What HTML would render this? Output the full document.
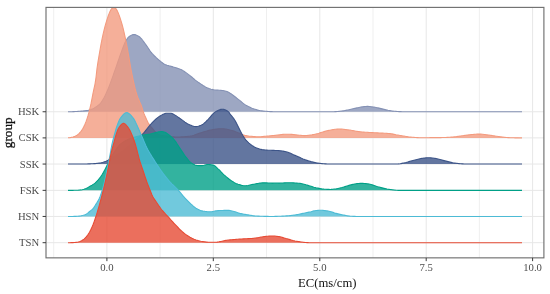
<!DOCTYPE html>
<html lang="en"><head><meta charset="utf-8"><title>EC ridgeline</title>
<style>
html,body{margin:0;padding:0;background:#fff;}
body{width:550px;height:294px;position:relative;overflow:hidden;font-family:"Liberation Serif",serif;}
svg text{font-family:"Liberation Serif",serif;}
.ax{font-size:10.7px;fill:#4d4d4d;}
.ti{font-size:12.7px;fill:#111;}
</style></head><body>
<svg width="550" height="294" viewBox="0 0 550 294" style="position:absolute;left:0;top:0">
<rect x="0" y="0" width="550" height="294" fill="#fff"/>
<g><line x1="53.7" x2="53.7" y1="7.4" y2="257.85" stroke="#ebebeb" stroke-width="0.8"/><line x1="160.1" x2="160.1" y1="7.4" y2="257.85" stroke="#ebebeb" stroke-width="0.8"/><line x1="266.5" x2="266.5" y1="7.4" y2="257.85" stroke="#ebebeb" stroke-width="0.8"/><line x1="373.0" x2="373.0" y1="7.4" y2="257.85" stroke="#ebebeb" stroke-width="0.8"/><line x1="479.4" x2="479.4" y1="7.4" y2="257.85" stroke="#ebebeb" stroke-width="0.8"/><line x1="106.9" x2="106.9" y1="7.4" y2="257.85" stroke="#e7e7e7" stroke-width="1"/><line x1="213.3" x2="213.3" y1="7.4" y2="257.85" stroke="#e7e7e7" stroke-width="1"/><line x1="319.8" x2="319.8" y1="7.4" y2="257.85" stroke="#e7e7e7" stroke-width="1"/><line x1="426.2" x2="426.2" y1="7.4" y2="257.85" stroke="#e7e7e7" stroke-width="1"/><line x1="532.6" x2="532.6" y1="7.4" y2="257.85" stroke="#e7e7e7" stroke-width="1"/><line x1="46.0" x2="543.9" y1="111.75" y2="111.75" stroke="#e7e7e7" stroke-width="1"/><line x1="46.0" x2="543.9" y1="137.9" y2="137.9" stroke="#e7e7e7" stroke-width="1"/><line x1="46.0" x2="543.9" y1="164.05" y2="164.05" stroke="#e7e7e7" stroke-width="1"/><line x1="46.0" x2="543.9" y1="190.35" y2="190.35" stroke="#e7e7e7" stroke-width="1"/><line x1="46.0" x2="543.9" y1="216.45" y2="216.45" stroke="#e7e7e7" stroke-width="1"/><line x1="46.0" x2="543.9" y1="242.7" y2="242.7" stroke="#e7e7e7" stroke-width="1"/></g>
<clipPath id="cp"><rect x="46.0" y="7.4" width="497.9" height="250.45000000000002"/></clipPath>
<g clip-path="url(#cp)">
<path d="M68.0,111.75 L69.0,111.74 L70.0,111.73 L71.0,111.71 L72.0,111.68 L73.0,111.64 L74.0,111.60 L75.0,111.56 L76.0,111.52 L77.0,111.45 L78.0,111.38 L79.0,111.30 L80.0,111.21 L81.0,111.11 L82.0,111.03 L83.0,110.94 L84.0,110.86 L85.0,110.77 L86.0,110.67 L87.0,110.55 L88.0,110.40 L89.0,110.19 L90.0,109.88 L91.0,109.52 L92.0,109.11 L93.0,108.68 L94.0,108.16 L95.0,107.57 L96.0,106.93 L97.0,106.26 L98.0,105.55 L99.0,104.75 L100.0,103.81 L101.0,102.62 L102.0,101.13 L103.0,99.45 L104.0,97.69 L105.0,95.76 L106.0,93.69 L107.0,91.50 L108.0,89.18 L109.0,86.72 L110.0,84.15 L111.0,81.49 L112.0,78.69 L113.0,75.85 L114.0,73.02 L115.0,70.18 L116.0,67.33 L117.0,64.45 L118.0,61.54 L119.0,58.65 L120.0,55.80 L121.0,53.04 L122.0,50.30 L123.0,47.51 L124.0,44.87 L125.0,42.57 L126.0,40.72 L127.0,39.05 L128.0,37.66 L129.0,36.73 L130.0,36.05 L131.0,35.44 L132.0,34.95 L133.0,34.62 L134.0,34.50 L135.0,34.62 L136.0,34.93 L137.0,35.39 L138.0,35.94 L139.0,36.54 L140.0,37.27 L141.0,38.27 L142.0,39.46 L143.0,40.79 L144.0,42.17 L145.0,43.54 L146.0,44.86 L147.0,46.27 L148.0,47.75 L149.0,49.25 L150.0,50.71 L151.0,52.09 L152.0,53.32 L153.0,54.44 L154.0,55.50 L155.0,56.50 L156.0,57.46 L157.0,58.37 L158.0,59.25 L159.0,60.09 L160.0,60.95 L161.0,61.78 L162.0,62.57 L163.0,63.29 L164.0,63.93 L165.0,64.45 L166.0,64.86 L167.0,65.22 L168.0,65.53 L169.0,65.82 L170.0,66.08 L171.0,66.35 L172.0,66.61 L173.0,66.90 L174.0,67.22 L175.0,67.53 L176.0,67.83 L177.0,68.14 L178.0,68.46 L179.0,68.81 L180.0,69.18 L181.0,69.60 L182.0,70.08 L183.0,70.64 L184.0,71.26 L185.0,71.93 L186.0,72.65 L187.0,73.38 L188.0,74.13 L189.0,74.86 L190.0,75.63 L191.0,76.45 L192.0,77.29 L193.0,78.15 L194.0,79.00 L195.0,79.83 L196.0,80.62 L197.0,81.37 L198.0,82.09 L199.0,82.80 L200.0,83.49 L201.0,84.16 L202.0,84.81 L203.0,85.44 L204.0,86.03 L205.0,86.61 L206.0,87.16 L207.0,87.66 L208.0,88.09 L209.0,88.49 L210.0,88.85 L211.0,89.17 L212.0,89.41 L213.0,89.62 L214.0,89.80 L215.0,89.94 L216.0,90.03 L217.0,90.10 L218.0,90.16 L219.0,90.22 L220.0,90.30 L221.0,90.37 L222.0,90.45 L223.0,90.56 L224.0,90.72 L225.0,90.93 L226.0,91.21 L227.0,91.53 L228.0,91.95 L229.0,92.52 L230.0,93.17 L231.0,93.82 L232.0,94.50 L233.0,95.23 L234.0,95.98 L235.0,96.75 L236.0,97.54 L237.0,98.33 L238.0,99.10 L239.0,99.88 L240.0,100.69 L241.0,101.52 L242.0,102.35 L243.0,103.16 L244.0,103.93 L245.0,104.64 L246.0,105.26 L247.0,105.82 L248.0,106.36 L249.0,106.87 L250.0,107.34 L251.0,107.79 L252.0,108.20 L253.0,108.57 L254.0,108.91 L255.0,109.24 L256.0,109.55 L257.0,109.85 L258.0,110.12 L259.0,110.36 L260.0,110.57 L261.0,110.73 L262.0,110.87 L263.0,110.99 L264.0,111.11 L265.0,111.22 L266.0,111.32 L267.0,111.41 L268.0,111.49 L269.0,111.56 L270.0,111.61 L271.0,111.64 L272.0,111.66 L273.0,111.68 L274.0,111.70 L275.0,111.71 L276.0,111.73 L277.0,111.74 L278.0,111.74 L279.0,111.75 L280.0,111.75 L281.0,111.75 L282.0,111.75 L283.0,111.75 L284.0,111.75 L285.0,111.75 L286.0,111.75 L287.0,111.75 L288.0,111.75 L289.0,111.75 L290.0,111.75 L291.0,111.75 L292.0,111.75 L293.0,111.75 L294.0,111.75 L295.0,111.75 L296.0,111.75 L297.0,111.75 L298.0,111.75 L299.0,111.75 L300.0,111.75 L301.0,111.75 L302.0,111.75 L303.0,111.75 L304.0,111.75 L305.0,111.75 L306.0,111.75 L307.0,111.75 L308.0,111.75 L309.0,111.75 L310.0,111.75 L311.0,111.75 L312.0,111.75 L313.0,111.75 L314.0,111.75 L315.0,111.75 L316.0,111.75 L317.0,111.75 L318.0,111.75 L319.0,111.75 L320.0,111.75 L321.0,111.75 L322.0,111.75 L323.0,111.75 L324.0,111.75 L325.0,111.75 L326.0,111.75 L327.0,111.75 L328.0,111.75 L329.0,111.75 L330.0,111.75 L331.0,111.75 L332.0,111.75 L333.0,111.75 L334.0,111.72 L335.0,111.67 L336.0,111.61 L337.0,111.53 L338.0,111.44 L339.0,111.34 L340.0,111.25 L341.0,111.14 L342.0,111.01 L343.0,110.86 L344.0,110.69 L345.0,110.52 L346.0,110.34 L347.0,110.16 L348.0,109.96 L349.0,109.75 L350.0,109.52 L351.0,109.29 L352.0,109.05 L353.0,108.81 L354.0,108.57 L355.0,108.34 L356.0,108.11 L357.0,107.90 L358.0,107.69 L359.0,107.47 L360.0,107.25 L361.0,107.05 L362.0,106.88 L363.0,106.75 L364.0,106.64 L365.0,106.54 L366.0,106.45 L367.0,106.41 L368.0,106.41 L369.0,106.47 L370.0,106.57 L371.0,106.70 L372.0,106.83 L373.0,106.97 L374.0,107.12 L375.0,107.30 L376.0,107.49 L377.0,107.70 L378.0,107.90 L379.0,108.11 L380.0,108.35 L381.0,108.60 L382.0,108.86 L383.0,109.12 L384.0,109.38 L385.0,109.64 L386.0,109.88 L387.0,110.10 L388.0,110.31 L389.0,110.49 L390.0,110.66 L391.0,110.81 L392.0,110.96 L393.0,111.09 L394.0,111.20 L395.0,111.30 L396.0,111.40 L397.0,111.48 L398.0,111.55 L399.0,111.60 L400.0,111.64 L401.0,111.67 L402.0,111.70 L403.0,111.73 L404.0,111.74 L405.0,111.75 L406.0,111.75 L407.0,111.75 L408.0,111.75 L409.0,111.75 L410.0,111.75 L411.0,111.75 L412.0,111.75 L413.0,111.75 L414.0,111.75 L415.0,111.75 L416.0,111.75 L417.0,111.75 L418.0,111.75 L419.0,111.75 L420.0,111.75 L421.0,111.75 L422.0,111.75 L423.0,111.75 L424.0,111.75 L425.0,111.75 L426.0,111.75 L427.0,111.75 L428.0,111.75 L429.0,111.75 L430.0,111.75 L431.0,111.75 L432.0,111.75 L433.0,111.75 L434.0,111.75 L435.0,111.75 L436.0,111.75 L437.0,111.75 L438.0,111.75 L439.0,111.75 L440.0,111.75 L441.0,111.75 L442.0,111.75 L443.0,111.75 L444.0,111.75 L445.0,111.75 L446.0,111.75 L447.0,111.75 L448.0,111.75 L449.0,111.75 L450.0,111.75 L451.0,111.75 L452.0,111.75 L453.0,111.75 L454.0,111.75 L455.0,111.75 L456.0,111.75 L457.0,111.75 L458.0,111.75 L459.0,111.75 L460.0,111.75 L461.0,111.75 L462.0,111.75 L463.0,111.75 L464.0,111.75 L465.0,111.75 L466.0,111.75 L467.0,111.75 L468.0,111.75 L469.0,111.75 L470.0,111.75 L471.0,111.75 L472.0,111.75 L473.0,111.75 L474.0,111.75 L475.0,111.75 L476.0,111.75 L477.0,111.75 L478.0,111.75 L479.0,111.75 L480.0,111.75 L481.0,111.75 L482.0,111.75 L483.0,111.75 L484.0,111.75 L485.0,111.75 L486.0,111.75 L487.0,111.75 L488.0,111.75 L489.0,111.75 L490.0,111.75 L491.0,111.75 L492.0,111.75 L493.0,111.75 L494.0,111.75 L495.0,111.75 L496.0,111.75 L497.0,111.75 L498.0,111.75 L499.0,111.75 L500.0,111.75 L501.0,111.75 L502.0,111.75 L503.0,111.75 L504.0,111.75 L505.0,111.75 L506.0,111.75 L507.0,111.75 L508.0,111.75 L509.0,111.75 L510.0,111.75 L511.0,111.75 L512.0,111.75 L513.0,111.75 L514.0,111.75 L515.0,111.75 L516.0,111.75 L517.0,111.75 L518.0,111.75 L519.0,111.75 L520.0,111.75 L521.0,111.75 L522.0,111.75 L522.0,111.75 L68.0,111.75 Z" fill="#8491B4" fill-opacity="0.8" stroke="none"/>
<path d="M68.0,111.75 L69.0,111.74 L70.0,111.73 L71.0,111.71 L72.0,111.68 L73.0,111.64 L74.0,111.60 L75.0,111.56 L76.0,111.52 L77.0,111.45 L78.0,111.38 L79.0,111.30 L80.0,111.21 L81.0,111.11 L82.0,111.03 L83.0,110.94 L84.0,110.86 L85.0,110.77 L86.0,110.67 L87.0,110.55 L88.0,110.40 L89.0,110.19 L90.0,109.88 L91.0,109.52 L92.0,109.11 L93.0,108.68 L94.0,108.16 L95.0,107.57 L96.0,106.93 L97.0,106.26 L98.0,105.55 L99.0,104.75 L100.0,103.81 L101.0,102.62 L102.0,101.13 L103.0,99.45 L104.0,97.69 L105.0,95.76 L106.0,93.69 L107.0,91.50 L108.0,89.18 L109.0,86.72 L110.0,84.15 L111.0,81.49 L112.0,78.69 L113.0,75.85 L114.0,73.02 L115.0,70.18 L116.0,67.33 L117.0,64.45 L118.0,61.54 L119.0,58.65 L120.0,55.80 L121.0,53.04 L122.0,50.30 L123.0,47.51 L124.0,44.87 L125.0,42.57 L126.0,40.72 L127.0,39.05 L128.0,37.66 L129.0,36.73 L130.0,36.05 L131.0,35.44 L132.0,34.95 L133.0,34.62 L134.0,34.50 L135.0,34.62 L136.0,34.93 L137.0,35.39 L138.0,35.94 L139.0,36.54 L140.0,37.27 L141.0,38.27 L142.0,39.46 L143.0,40.79 L144.0,42.17 L145.0,43.54 L146.0,44.86 L147.0,46.27 L148.0,47.75 L149.0,49.25 L150.0,50.71 L151.0,52.09 L152.0,53.32 L153.0,54.44 L154.0,55.50 L155.0,56.50 L156.0,57.46 L157.0,58.37 L158.0,59.25 L159.0,60.09 L160.0,60.95 L161.0,61.78 L162.0,62.57 L163.0,63.29 L164.0,63.93 L165.0,64.45 L166.0,64.86 L167.0,65.22 L168.0,65.53 L169.0,65.82 L170.0,66.08 L171.0,66.35 L172.0,66.61 L173.0,66.90 L174.0,67.22 L175.0,67.53 L176.0,67.83 L177.0,68.14 L178.0,68.46 L179.0,68.81 L180.0,69.18 L181.0,69.60 L182.0,70.08 L183.0,70.64 L184.0,71.26 L185.0,71.93 L186.0,72.65 L187.0,73.38 L188.0,74.13 L189.0,74.86 L190.0,75.63 L191.0,76.45 L192.0,77.29 L193.0,78.15 L194.0,79.00 L195.0,79.83 L196.0,80.62 L197.0,81.37 L198.0,82.09 L199.0,82.80 L200.0,83.49 L201.0,84.16 L202.0,84.81 L203.0,85.44 L204.0,86.03 L205.0,86.61 L206.0,87.16 L207.0,87.66 L208.0,88.09 L209.0,88.49 L210.0,88.85 L211.0,89.17 L212.0,89.41 L213.0,89.62 L214.0,89.80 L215.0,89.94 L216.0,90.03 L217.0,90.10 L218.0,90.16 L219.0,90.22 L220.0,90.30 L221.0,90.37 L222.0,90.45 L223.0,90.56 L224.0,90.72 L225.0,90.93 L226.0,91.21 L227.0,91.53 L228.0,91.95 L229.0,92.52 L230.0,93.17 L231.0,93.82 L232.0,94.50 L233.0,95.23 L234.0,95.98 L235.0,96.75 L236.0,97.54 L237.0,98.33 L238.0,99.10 L239.0,99.88 L240.0,100.69 L241.0,101.52 L242.0,102.35 L243.0,103.16 L244.0,103.93 L245.0,104.64 L246.0,105.26 L247.0,105.82 L248.0,106.36 L249.0,106.87 L250.0,107.34 L251.0,107.79 L252.0,108.20 L253.0,108.57 L254.0,108.91 L255.0,109.24 L256.0,109.55 L257.0,109.85 L258.0,110.12 L259.0,110.36 L260.0,110.57 L261.0,110.73 L262.0,110.87 L263.0,110.99 L264.0,111.11 L265.0,111.22 L266.0,111.32 L267.0,111.41 L268.0,111.49 L269.0,111.56 L270.0,111.61 L271.0,111.64 L272.0,111.66 L273.0,111.68 L274.0,111.70 L275.0,111.71 L276.0,111.73 L277.0,111.74 L278.0,111.74 L279.0,111.75 L280.0,111.75 L281.0,111.75 L282.0,111.75 L283.0,111.75 L284.0,111.75 L285.0,111.75 L286.0,111.75 L287.0,111.75 L288.0,111.75 L289.0,111.75 L290.0,111.75 L291.0,111.75 L292.0,111.75 L293.0,111.75 L294.0,111.75 L295.0,111.75 L296.0,111.75 L297.0,111.75 L298.0,111.75 L299.0,111.75 L300.0,111.75 L301.0,111.75 L302.0,111.75 L303.0,111.75 L304.0,111.75 L305.0,111.75 L306.0,111.75 L307.0,111.75 L308.0,111.75 L309.0,111.75 L310.0,111.75 L311.0,111.75 L312.0,111.75 L313.0,111.75 L314.0,111.75 L315.0,111.75 L316.0,111.75 L317.0,111.75 L318.0,111.75 L319.0,111.75 L320.0,111.75 L321.0,111.75 L322.0,111.75 L323.0,111.75 L324.0,111.75 L325.0,111.75 L326.0,111.75 L327.0,111.75 L328.0,111.75 L329.0,111.75 L330.0,111.75 L331.0,111.75 L332.0,111.75 L333.0,111.75 L334.0,111.72 L335.0,111.67 L336.0,111.61 L337.0,111.53 L338.0,111.44 L339.0,111.34 L340.0,111.25 L341.0,111.14 L342.0,111.01 L343.0,110.86 L344.0,110.69 L345.0,110.52 L346.0,110.34 L347.0,110.16 L348.0,109.96 L349.0,109.75 L350.0,109.52 L351.0,109.29 L352.0,109.05 L353.0,108.81 L354.0,108.57 L355.0,108.34 L356.0,108.11 L357.0,107.90 L358.0,107.69 L359.0,107.47 L360.0,107.25 L361.0,107.05 L362.0,106.88 L363.0,106.75 L364.0,106.64 L365.0,106.54 L366.0,106.45 L367.0,106.41 L368.0,106.41 L369.0,106.47 L370.0,106.57 L371.0,106.70 L372.0,106.83 L373.0,106.97 L374.0,107.12 L375.0,107.30 L376.0,107.49 L377.0,107.70 L378.0,107.90 L379.0,108.11 L380.0,108.35 L381.0,108.60 L382.0,108.86 L383.0,109.12 L384.0,109.38 L385.0,109.64 L386.0,109.88 L387.0,110.10 L388.0,110.31 L389.0,110.49 L390.0,110.66 L391.0,110.81 L392.0,110.96 L393.0,111.09 L394.0,111.20 L395.0,111.30 L396.0,111.40 L397.0,111.48 L398.0,111.55 L399.0,111.60 L400.0,111.64 L401.0,111.67 L402.0,111.70 L403.0,111.73 L404.0,111.74 L405.0,111.75 L406.0,111.75 L407.0,111.75 L408.0,111.75 L409.0,111.75 L410.0,111.75 L411.0,111.75 L412.0,111.75 L413.0,111.75 L414.0,111.75 L415.0,111.75 L416.0,111.75 L417.0,111.75 L418.0,111.75 L419.0,111.75 L420.0,111.75 L421.0,111.75 L422.0,111.75 L423.0,111.75 L424.0,111.75 L425.0,111.75 L426.0,111.75 L427.0,111.75 L428.0,111.75 L429.0,111.75 L430.0,111.75 L431.0,111.75 L432.0,111.75 L433.0,111.75 L434.0,111.75 L435.0,111.75 L436.0,111.75 L437.0,111.75 L438.0,111.75 L439.0,111.75 L440.0,111.75 L441.0,111.75 L442.0,111.75 L443.0,111.75 L444.0,111.75 L445.0,111.75 L446.0,111.75 L447.0,111.75 L448.0,111.75 L449.0,111.75 L450.0,111.75 L451.0,111.75 L452.0,111.75 L453.0,111.75 L454.0,111.75 L455.0,111.75 L456.0,111.75 L457.0,111.75 L458.0,111.75 L459.0,111.75 L460.0,111.75 L461.0,111.75 L462.0,111.75 L463.0,111.75 L464.0,111.75 L465.0,111.75 L466.0,111.75 L467.0,111.75 L468.0,111.75 L469.0,111.75 L470.0,111.75 L471.0,111.75 L472.0,111.75 L473.0,111.75 L474.0,111.75 L475.0,111.75 L476.0,111.75 L477.0,111.75 L478.0,111.75 L479.0,111.75 L480.0,111.75 L481.0,111.75 L482.0,111.75 L483.0,111.75 L484.0,111.75 L485.0,111.75 L486.0,111.75 L487.0,111.75 L488.0,111.75 L489.0,111.75 L490.0,111.75 L491.0,111.75 L492.0,111.75 L493.0,111.75 L494.0,111.75 L495.0,111.75 L496.0,111.75 L497.0,111.75 L498.0,111.75 L499.0,111.75 L500.0,111.75 L501.0,111.75 L502.0,111.75 L503.0,111.75 L504.0,111.75 L505.0,111.75 L506.0,111.75 L507.0,111.75 L508.0,111.75 L509.0,111.75 L510.0,111.75 L511.0,111.75 L512.0,111.75 L513.0,111.75 L514.0,111.75 L515.0,111.75 L516.0,111.75 L517.0,111.75 L518.0,111.75 L519.0,111.75 L520.0,111.75 L521.0,111.75 L522.0,111.75" fill="none" stroke="#8491B4" stroke-width="1.1" stroke-linejoin="round"/>
<path d="M68.0,137.80 L69.0,137.72 L70.0,137.59 L71.0,137.41 L72.0,137.20 L73.0,136.95 L74.0,136.62 L75.0,136.23 L76.0,135.76 L77.0,135.21 L78.0,134.46 L79.0,133.55 L80.0,132.50 L81.0,131.28 L82.0,129.83 L83.0,128.16 L84.0,126.29 L85.0,124.17 L86.0,121.66 L87.0,118.81 L88.0,115.70 L89.0,112.16 L90.0,108.11 L91.0,103.65 L92.0,98.54 L93.0,93.30 L94.0,88.69 L95.0,84.08 L96.0,77.57 L97.0,68.50 L98.0,61.86 L99.0,55.90 L100.0,50.02 L101.0,44.44 L102.0,39.32 L103.0,34.70 L104.0,30.42 L105.0,26.40 L106.0,22.85 L107.0,19.56 L108.0,16.55 L109.0,13.85 L110.0,11.49 L111.0,9.63 L112.0,8.45 L113.0,7.80 L114.0,7.61 L115.0,8.03 L116.0,8.79 L117.0,10.34 L118.0,12.37 L119.0,14.90 L120.0,17.71 L121.0,20.85 L122.0,24.24 L123.0,27.96 L124.0,32.10 L125.0,36.51 L126.0,41.29 L127.0,46.60 L128.0,52.21 L129.0,57.90 L130.0,63.87 L131.0,69.49 L132.0,74.51 L133.0,79.37 L134.0,83.97 L135.0,88.21 L136.0,91.99 L137.0,95.22 L138.0,97.90 L139.0,100.31 L140.0,102.62 L141.0,104.76 L142.0,107.58 L143.0,111.00 L144.0,113.65 L145.0,116.01 L146.0,118.22 L147.0,120.38 L148.0,122.43 L149.0,124.19 L150.0,125.59 L151.0,126.75 L152.0,127.88 L153.0,129.12 L154.0,130.39 L155.0,131.53 L156.0,132.43 L157.0,133.26 L158.0,134.01 L159.0,134.61 L160.0,135.00 L161.0,135.25 L162.0,135.46 L163.0,135.64 L164.0,135.79 L165.0,135.93 L166.0,136.05 L167.0,136.16 L168.0,136.27 L169.0,136.38 L170.0,136.50 L171.0,136.61 L172.0,136.72 L173.0,136.82 L174.0,136.90 L175.0,136.96 L176.0,137.00 L177.0,137.00 L178.0,136.99 L179.0,136.96 L180.0,136.93 L181.0,136.89 L182.0,136.83 L183.0,136.77 L184.0,136.70 L185.0,136.63 L186.0,136.54 L187.0,136.46 L188.0,136.36 L189.0,136.26 L190.0,136.15 L191.0,135.99 L192.0,135.76 L193.0,135.48 L194.0,135.17 L195.0,134.82 L196.0,134.46 L197.0,134.09 L198.0,133.73 L199.0,133.38 L200.0,133.05 L201.0,132.75 L202.0,132.45 L203.0,132.14 L204.0,131.84 L205.0,131.53 L206.0,131.23 L207.0,130.93 L208.0,130.65 L209.0,130.39 L210.0,130.15 L211.0,129.94 L212.0,129.75 L213.0,129.56 L214.0,129.39 L215.0,129.24 L216.0,129.11 L217.0,129.00 L218.0,128.91 L219.0,128.82 L220.0,128.75 L221.0,128.71 L222.0,128.71 L223.0,128.76 L224.0,128.86 L225.0,128.99 L226.0,129.13 L227.0,129.28 L228.0,129.46 L229.0,129.68 L230.0,129.93 L231.0,130.20 L232.0,130.48 L233.0,130.79 L234.0,131.13 L235.0,131.51 L236.0,131.91 L237.0,132.30 L238.0,132.70 L239.0,133.11 L240.0,133.52 L241.0,133.92 L242.0,134.32 L243.0,134.72 L244.0,135.08 L245.0,135.35 L246.0,135.56 L247.0,135.75 L248.0,135.92 L249.0,136.08 L250.0,136.21 L251.0,136.32 L252.0,136.42 L253.0,136.51 L254.0,136.59 L255.0,136.67 L256.0,136.73 L257.0,136.78 L258.0,136.80 L259.0,136.79 L260.0,136.75 L261.0,136.69 L262.0,136.61 L263.0,136.52 L264.0,136.42 L265.0,136.32 L266.0,136.23 L267.0,136.14 L268.0,136.05 L269.0,135.96 L270.0,135.86 L271.0,135.76 L272.0,135.66 L273.0,135.56 L274.0,135.46 L275.0,135.35 L276.0,135.24 L277.0,135.13 L278.0,135.02 L279.0,134.91 L280.0,134.78 L281.0,134.63 L282.0,134.48 L283.0,134.34 L284.0,134.24 L285.0,134.20 L286.0,134.21 L287.0,134.22 L288.0,134.25 L289.0,134.28 L290.0,134.32 L291.0,134.36 L292.0,134.41 L293.0,134.48 L294.0,134.59 L295.0,134.71 L296.0,134.84 L297.0,134.98 L298.0,135.10 L299.0,135.20 L300.0,135.29 L301.0,135.39 L302.0,135.48 L303.0,135.55 L304.0,135.59 L305.0,135.60 L306.0,135.55 L307.0,135.47 L308.0,135.37 L309.0,135.25 L310.0,135.12 L311.0,134.99 L312.0,134.84 L313.0,134.66 L314.0,134.46 L315.0,134.24 L316.0,134.01 L317.0,133.77 L318.0,133.51 L319.0,133.20 L320.0,132.86 L321.0,132.51 L322.0,132.20 L323.0,131.91 L324.0,131.63 L325.0,131.35 L326.0,131.09 L327.0,130.84 L328.0,130.61 L329.0,130.38 L330.0,130.17 L331.0,129.97 L332.0,129.80 L333.0,129.64 L334.0,129.48 L335.0,129.33 L336.0,129.19 L337.0,129.09 L338.0,129.02 L339.0,129.00 L340.0,129.03 L341.0,129.09 L342.0,129.17 L343.0,129.26 L344.0,129.35 L345.0,129.45 L346.0,129.58 L347.0,129.72 L348.0,129.86 L349.0,130.00 L350.0,130.15 L351.0,130.31 L352.0,130.47 L353.0,130.65 L354.0,130.83 L355.0,131.01 L356.0,131.18 L357.0,131.35 L358.0,131.51 L359.0,131.65 L360.0,131.78 L361.0,131.88 L362.0,131.97 L363.0,132.05 L364.0,132.12 L365.0,132.19 L366.0,132.26 L367.0,132.32 L368.0,132.38 L369.0,132.43 L370.0,132.49 L371.0,132.54 L372.0,132.59 L373.0,132.65 L374.0,132.70 L375.0,132.75 L376.0,132.80 L377.0,132.85 L378.0,132.90 L379.0,132.94 L380.0,132.99 L381.0,133.03 L382.0,133.08 L383.0,133.13 L384.0,133.19 L385.0,133.25 L386.0,133.30 L387.0,133.36 L388.0,133.43 L389.0,133.51 L390.0,133.60 L391.0,133.73 L392.0,133.91 L393.0,134.12 L394.0,134.35 L395.0,134.59 L396.0,134.81 L397.0,135.00 L398.0,135.16 L399.0,135.32 L400.0,135.47 L401.0,135.63 L402.0,135.80 L403.0,135.98 L404.0,136.16 L405.0,136.33 L406.0,136.50 L407.0,136.66 L408.0,136.80 L409.0,136.93 L410.0,137.03 L411.0,137.13 L412.0,137.22 L413.0,137.32 L414.0,137.40 L415.0,137.48 L416.0,137.56 L417.0,137.62 L418.0,137.66 L419.0,137.69 L420.0,137.70 L421.0,137.70 L422.0,137.70 L423.0,137.70 L424.0,137.70 L425.0,137.69 L426.0,137.69 L427.0,137.69 L428.0,137.68 L429.0,137.68 L430.0,137.67 L431.0,137.67 L432.0,137.66 L433.0,137.66 L434.0,137.65 L435.0,137.64 L436.0,137.64 L437.0,137.63 L438.0,137.62 L439.0,137.61 L440.0,137.60 L441.0,137.59 L442.0,137.57 L443.0,137.54 L444.0,137.51 L445.0,137.47 L446.0,137.43 L447.0,137.38 L448.0,137.33 L449.0,137.28 L450.0,137.23 L451.0,137.16 L452.0,137.08 L453.0,136.99 L454.0,136.90 L455.0,136.80 L456.0,136.69 L457.0,136.55 L458.0,136.41 L459.0,136.25 L460.0,136.10 L461.0,135.95 L462.0,135.82 L463.0,135.68 L464.0,135.54 L465.0,135.40 L466.0,135.26 L467.0,135.12 L468.0,134.99 L469.0,134.87 L470.0,134.75 L471.0,134.65 L472.0,134.57 L473.0,134.48 L474.0,134.39 L475.0,134.30 L476.0,134.23 L477.0,134.17 L478.0,134.12 L479.0,134.10 L480.0,134.11 L481.0,134.15 L482.0,134.23 L483.0,134.32 L484.0,134.44 L485.0,134.57 L486.0,134.71 L487.0,134.86 L488.0,135.00 L489.0,135.14 L490.0,135.26 L491.0,135.40 L492.0,135.55 L493.0,135.70 L494.0,135.86 L495.0,136.02 L496.0,136.18 L497.0,136.33 L498.0,136.48 L499.0,136.61 L500.0,136.74 L501.0,136.86 L502.0,136.98 L503.0,137.10 L504.0,137.22 L505.0,137.34 L506.0,137.44 L507.0,137.53 L508.0,137.61 L509.0,137.66 L510.0,137.70 L511.0,137.73 L512.0,137.76 L513.0,137.78 L514.0,137.81 L515.0,137.83 L516.0,137.84 L517.0,137.86 L518.0,137.87 L519.0,137.89 L520.0,137.89 L521.0,137.90 L522.0,137.90 L522.0,137.9 L68.0,137.9 Z" fill="#F39B7F" fill-opacity="0.8" stroke="none"/>
<path d="M68.0,137.80 L69.0,137.72 L70.0,137.59 L71.0,137.41 L72.0,137.20 L73.0,136.95 L74.0,136.62 L75.0,136.23 L76.0,135.76 L77.0,135.21 L78.0,134.46 L79.0,133.55 L80.0,132.50 L81.0,131.28 L82.0,129.83 L83.0,128.16 L84.0,126.29 L85.0,124.17 L86.0,121.66 L87.0,118.81 L88.0,115.70 L89.0,112.16 L90.0,108.11 L91.0,103.65 L92.0,98.54 L93.0,93.30 L94.0,88.69 L95.0,84.08 L96.0,77.57 L97.0,68.50 L98.0,61.86 L99.0,55.90 L100.0,50.02 L101.0,44.44 L102.0,39.32 L103.0,34.70 L104.0,30.42 L105.0,26.40 L106.0,22.85 L107.0,19.56 L108.0,16.55 L109.0,13.85 L110.0,11.49 L111.0,9.63 L112.0,8.45 L113.0,7.80 L114.0,7.61 L115.0,8.03 L116.0,8.79 L117.0,10.34 L118.0,12.37 L119.0,14.90 L120.0,17.71 L121.0,20.85 L122.0,24.24 L123.0,27.96 L124.0,32.10 L125.0,36.51 L126.0,41.29 L127.0,46.60 L128.0,52.21 L129.0,57.90 L130.0,63.87 L131.0,69.49 L132.0,74.51 L133.0,79.37 L134.0,83.97 L135.0,88.21 L136.0,91.99 L137.0,95.22 L138.0,97.90 L139.0,100.31 L140.0,102.62 L141.0,104.76 L142.0,107.58 L143.0,111.00 L144.0,113.65 L145.0,116.01 L146.0,118.22 L147.0,120.38 L148.0,122.43 L149.0,124.19 L150.0,125.59 L151.0,126.75 L152.0,127.88 L153.0,129.12 L154.0,130.39 L155.0,131.53 L156.0,132.43 L157.0,133.26 L158.0,134.01 L159.0,134.61 L160.0,135.00 L161.0,135.25 L162.0,135.46 L163.0,135.64 L164.0,135.79 L165.0,135.93 L166.0,136.05 L167.0,136.16 L168.0,136.27 L169.0,136.38 L170.0,136.50 L171.0,136.61 L172.0,136.72 L173.0,136.82 L174.0,136.90 L175.0,136.96 L176.0,137.00 L177.0,137.00 L178.0,136.99 L179.0,136.96 L180.0,136.93 L181.0,136.89 L182.0,136.83 L183.0,136.77 L184.0,136.70 L185.0,136.63 L186.0,136.54 L187.0,136.46 L188.0,136.36 L189.0,136.26 L190.0,136.15 L191.0,135.99 L192.0,135.76 L193.0,135.48 L194.0,135.17 L195.0,134.82 L196.0,134.46 L197.0,134.09 L198.0,133.73 L199.0,133.38 L200.0,133.05 L201.0,132.75 L202.0,132.45 L203.0,132.14 L204.0,131.84 L205.0,131.53 L206.0,131.23 L207.0,130.93 L208.0,130.65 L209.0,130.39 L210.0,130.15 L211.0,129.94 L212.0,129.75 L213.0,129.56 L214.0,129.39 L215.0,129.24 L216.0,129.11 L217.0,129.00 L218.0,128.91 L219.0,128.82 L220.0,128.75 L221.0,128.71 L222.0,128.71 L223.0,128.76 L224.0,128.86 L225.0,128.99 L226.0,129.13 L227.0,129.28 L228.0,129.46 L229.0,129.68 L230.0,129.93 L231.0,130.20 L232.0,130.48 L233.0,130.79 L234.0,131.13 L235.0,131.51 L236.0,131.91 L237.0,132.30 L238.0,132.70 L239.0,133.11 L240.0,133.52 L241.0,133.92 L242.0,134.32 L243.0,134.72 L244.0,135.08 L245.0,135.35 L246.0,135.56 L247.0,135.75 L248.0,135.92 L249.0,136.08 L250.0,136.21 L251.0,136.32 L252.0,136.42 L253.0,136.51 L254.0,136.59 L255.0,136.67 L256.0,136.73 L257.0,136.78 L258.0,136.80 L259.0,136.79 L260.0,136.75 L261.0,136.69 L262.0,136.61 L263.0,136.52 L264.0,136.42 L265.0,136.32 L266.0,136.23 L267.0,136.14 L268.0,136.05 L269.0,135.96 L270.0,135.86 L271.0,135.76 L272.0,135.66 L273.0,135.56 L274.0,135.46 L275.0,135.35 L276.0,135.24 L277.0,135.13 L278.0,135.02 L279.0,134.91 L280.0,134.78 L281.0,134.63 L282.0,134.48 L283.0,134.34 L284.0,134.24 L285.0,134.20 L286.0,134.21 L287.0,134.22 L288.0,134.25 L289.0,134.28 L290.0,134.32 L291.0,134.36 L292.0,134.41 L293.0,134.48 L294.0,134.59 L295.0,134.71 L296.0,134.84 L297.0,134.98 L298.0,135.10 L299.0,135.20 L300.0,135.29 L301.0,135.39 L302.0,135.48 L303.0,135.55 L304.0,135.59 L305.0,135.60 L306.0,135.55 L307.0,135.47 L308.0,135.37 L309.0,135.25 L310.0,135.12 L311.0,134.99 L312.0,134.84 L313.0,134.66 L314.0,134.46 L315.0,134.24 L316.0,134.01 L317.0,133.77 L318.0,133.51 L319.0,133.20 L320.0,132.86 L321.0,132.51 L322.0,132.20 L323.0,131.91 L324.0,131.63 L325.0,131.35 L326.0,131.09 L327.0,130.84 L328.0,130.61 L329.0,130.38 L330.0,130.17 L331.0,129.97 L332.0,129.80 L333.0,129.64 L334.0,129.48 L335.0,129.33 L336.0,129.19 L337.0,129.09 L338.0,129.02 L339.0,129.00 L340.0,129.03 L341.0,129.09 L342.0,129.17 L343.0,129.26 L344.0,129.35 L345.0,129.45 L346.0,129.58 L347.0,129.72 L348.0,129.86 L349.0,130.00 L350.0,130.15 L351.0,130.31 L352.0,130.47 L353.0,130.65 L354.0,130.83 L355.0,131.01 L356.0,131.18 L357.0,131.35 L358.0,131.51 L359.0,131.65 L360.0,131.78 L361.0,131.88 L362.0,131.97 L363.0,132.05 L364.0,132.12 L365.0,132.19 L366.0,132.26 L367.0,132.32 L368.0,132.38 L369.0,132.43 L370.0,132.49 L371.0,132.54 L372.0,132.59 L373.0,132.65 L374.0,132.70 L375.0,132.75 L376.0,132.80 L377.0,132.85 L378.0,132.90 L379.0,132.94 L380.0,132.99 L381.0,133.03 L382.0,133.08 L383.0,133.13 L384.0,133.19 L385.0,133.25 L386.0,133.30 L387.0,133.36 L388.0,133.43 L389.0,133.51 L390.0,133.60 L391.0,133.73 L392.0,133.91 L393.0,134.12 L394.0,134.35 L395.0,134.59 L396.0,134.81 L397.0,135.00 L398.0,135.16 L399.0,135.32 L400.0,135.47 L401.0,135.63 L402.0,135.80 L403.0,135.98 L404.0,136.16 L405.0,136.33 L406.0,136.50 L407.0,136.66 L408.0,136.80 L409.0,136.93 L410.0,137.03 L411.0,137.13 L412.0,137.22 L413.0,137.32 L414.0,137.40 L415.0,137.48 L416.0,137.56 L417.0,137.62 L418.0,137.66 L419.0,137.69 L420.0,137.70 L421.0,137.70 L422.0,137.70 L423.0,137.70 L424.0,137.70 L425.0,137.69 L426.0,137.69 L427.0,137.69 L428.0,137.68 L429.0,137.68 L430.0,137.67 L431.0,137.67 L432.0,137.66 L433.0,137.66 L434.0,137.65 L435.0,137.64 L436.0,137.64 L437.0,137.63 L438.0,137.62 L439.0,137.61 L440.0,137.60 L441.0,137.59 L442.0,137.57 L443.0,137.54 L444.0,137.51 L445.0,137.47 L446.0,137.43 L447.0,137.38 L448.0,137.33 L449.0,137.28 L450.0,137.23 L451.0,137.16 L452.0,137.08 L453.0,136.99 L454.0,136.90 L455.0,136.80 L456.0,136.69 L457.0,136.55 L458.0,136.41 L459.0,136.25 L460.0,136.10 L461.0,135.95 L462.0,135.82 L463.0,135.68 L464.0,135.54 L465.0,135.40 L466.0,135.26 L467.0,135.12 L468.0,134.99 L469.0,134.87 L470.0,134.75 L471.0,134.65 L472.0,134.57 L473.0,134.48 L474.0,134.39 L475.0,134.30 L476.0,134.23 L477.0,134.17 L478.0,134.12 L479.0,134.10 L480.0,134.11 L481.0,134.15 L482.0,134.23 L483.0,134.32 L484.0,134.44 L485.0,134.57 L486.0,134.71 L487.0,134.86 L488.0,135.00 L489.0,135.14 L490.0,135.26 L491.0,135.40 L492.0,135.55 L493.0,135.70 L494.0,135.86 L495.0,136.02 L496.0,136.18 L497.0,136.33 L498.0,136.48 L499.0,136.61 L500.0,136.74 L501.0,136.86 L502.0,136.98 L503.0,137.10 L504.0,137.22 L505.0,137.34 L506.0,137.44 L507.0,137.53 L508.0,137.61 L509.0,137.66 L510.0,137.70 L511.0,137.73 L512.0,137.76 L513.0,137.78 L514.0,137.81 L515.0,137.83 L516.0,137.84 L517.0,137.86 L518.0,137.87 L519.0,137.89 L520.0,137.89 L521.0,137.90 L522.0,137.90" fill="none" stroke="#F39B7F" stroke-width="1.1" stroke-linejoin="round"/>
<path d="M68.0,164.05 L69.0,164.05 L70.0,164.05 L71.0,164.05 L72.0,164.04 L73.0,164.04 L74.0,164.04 L75.0,164.03 L76.0,164.03 L77.0,164.02 L78.0,164.02 L79.0,164.01 L80.0,164.00 L81.0,164.00 L82.0,163.99 L83.0,163.98 L84.0,163.97 L85.0,163.96 L86.0,163.95 L87.0,163.94 L88.0,163.92 L89.0,163.89 L90.0,163.86 L91.0,163.82 L92.0,163.78 L93.0,163.73 L94.0,163.67 L95.0,163.59 L96.0,163.49 L97.0,163.37 L98.0,163.25 L99.0,163.10 L100.0,162.95 L101.0,162.76 L102.0,162.51 L103.0,162.22 L104.0,161.90 L105.0,161.57 L106.0,161.20 L107.0,160.79 L108.0,160.32 L109.0,159.77 L110.0,159.20 L111.0,158.61 L112.0,158.00 L113.0,157.37 L114.0,156.73 L115.0,156.09 L116.0,155.46 L117.0,154.84 L118.0,154.22 L119.0,153.59 L120.0,152.94 L121.0,152.27 L122.0,151.57 L123.0,150.83 L124.0,150.07 L125.0,149.27 L126.0,148.45 L127.0,147.62 L128.0,146.77 L129.0,145.91 L130.0,145.04 L131.0,144.15 L132.0,143.23 L133.0,142.30 L134.0,141.36 L135.0,140.43 L136.0,139.53 L137.0,138.67 L138.0,137.86 L139.0,137.06 L140.0,136.27 L141.0,135.44 L142.0,134.57 L143.0,133.62 L144.0,132.56 L145.0,131.35 L146.0,130.07 L147.0,128.79 L148.0,127.57 L149.0,126.38 L150.0,125.19 L151.0,124.01 L152.0,122.86 L153.0,121.78 L154.0,120.79 L155.0,119.87 L156.0,118.98 L157.0,118.13 L158.0,117.33 L159.0,116.60 L160.0,115.95 L161.0,115.41 L162.0,114.88 L163.0,114.36 L164.0,113.89 L165.0,113.51 L166.0,113.27 L167.0,113.21 L168.0,113.22 L169.0,113.24 L170.0,113.27 L171.0,113.31 L172.0,113.53 L173.0,114.00 L174.0,114.58 L175.0,115.13 L176.0,115.73 L177.0,116.39 L178.0,117.09 L179.0,117.81 L180.0,118.52 L181.0,119.21 L182.0,119.90 L183.0,120.63 L184.0,121.37 L185.0,122.10 L186.0,122.79 L187.0,123.43 L188.0,123.98 L189.0,124.44 L190.0,124.88 L191.0,125.31 L192.0,125.72 L193.0,126.07 L194.0,126.36 L195.0,126.54 L196.0,126.61 L197.0,126.54 L198.0,126.33 L199.0,126.02 L200.0,125.62 L201.0,125.16 L202.0,124.67 L203.0,124.14 L204.0,123.43 L205.0,122.53 L206.0,121.53 L207.0,120.50 L208.0,119.52 L209.0,118.45 L210.0,117.30 L211.0,116.11 L212.0,114.95 L213.0,113.86 L214.0,112.91 L215.0,112.14 L216.0,111.57 L217.0,111.02 L218.0,110.50 L219.0,110.04 L220.0,109.65 L221.0,109.37 L222.0,109.22 L223.0,109.22 L224.0,109.41 L225.0,109.76 L226.0,110.24 L227.0,110.81 L228.0,111.46 L229.0,112.42 L230.0,113.87 L231.0,115.21 L232.0,116.42 L233.0,117.63 L234.0,118.94 L235.0,120.45 L236.0,122.25 L237.0,124.22 L238.0,126.20 L239.0,128.19 L240.0,130.23 L241.0,132.20 L242.0,134.08 L243.0,135.77 L244.0,137.37 L245.0,138.83 L246.0,140.07 L247.0,141.17 L248.0,142.16 L249.0,143.07 L250.0,143.92 L251.0,144.72 L252.0,145.45 L253.0,146.10 L254.0,146.68 L255.0,147.20 L256.0,147.67 L257.0,148.08 L258.0,148.46 L259.0,148.82 L260.0,149.14 L261.0,149.41 L262.0,149.60 L263.0,149.74 L264.0,149.85 L265.0,149.95 L266.0,150.04 L267.0,150.11 L268.0,150.18 L269.0,150.23 L270.0,150.28 L271.0,150.32 L272.0,150.35 L273.0,150.38 L274.0,150.40 L275.0,150.44 L276.0,150.47 L277.0,150.51 L278.0,150.56 L279.0,150.63 L280.0,150.72 L281.0,150.84 L282.0,150.98 L283.0,151.15 L284.0,151.34 L285.0,151.54 L286.0,151.76 L287.0,152.01 L288.0,152.34 L289.0,152.71 L290.0,153.10 L291.0,153.54 L292.0,154.01 L293.0,154.49 L294.0,154.94 L295.0,155.37 L296.0,155.79 L297.0,156.20 L298.0,156.63 L299.0,157.09 L300.0,157.59 L301.0,158.08 L302.0,158.51 L303.0,158.92 L304.0,159.30 L305.0,159.67 L306.0,160.02 L307.0,160.37 L308.0,160.70 L309.0,161.03 L310.0,161.34 L311.0,161.64 L312.0,161.90 L313.0,162.14 L314.0,162.36 L315.0,162.57 L316.0,162.76 L317.0,162.93 L318.0,163.09 L319.0,163.25 L320.0,163.38 L321.0,163.50 L322.0,163.60 L323.0,163.68 L324.0,163.76 L325.0,163.84 L326.0,163.91 L327.0,163.97 L328.0,164.01 L329.0,164.04 L330.0,164.05 L331.0,164.05 L332.0,164.05 L333.0,164.05 L334.0,164.05 L335.0,164.05 L336.0,164.05 L337.0,164.05 L338.0,164.05 L339.0,164.05 L340.0,164.05 L341.0,164.05 L342.0,164.05 L343.0,164.05 L344.0,164.05 L345.0,164.05 L346.0,164.05 L347.0,164.05 L348.0,164.05 L349.0,164.05 L350.0,164.05 L351.0,164.05 L352.0,164.05 L353.0,164.05 L354.0,164.05 L355.0,164.05 L356.0,164.05 L357.0,164.05 L358.0,164.05 L359.0,164.05 L360.0,164.05 L361.0,164.05 L362.0,164.05 L363.0,164.05 L364.0,164.05 L365.0,164.05 L366.0,164.05 L367.0,164.05 L368.0,164.05 L369.0,164.05 L370.0,164.05 L371.0,164.05 L372.0,164.05 L373.0,164.05 L374.0,164.05 L375.0,164.05 L376.0,164.05 L377.0,164.05 L378.0,164.05 L379.0,164.05 L380.0,164.05 L381.0,164.05 L382.0,164.05 L383.0,164.05 L384.0,164.05 L385.0,164.05 L386.0,164.05 L387.0,164.05 L388.0,164.05 L389.0,164.05 L390.0,164.05 L391.0,164.05 L392.0,164.05 L393.0,164.05 L394.0,164.05 L395.0,164.05 L396.0,164.05 L397.0,164.05 L398.0,164.02 L399.0,163.92 L400.0,163.78 L401.0,163.60 L402.0,163.39 L403.0,163.16 L404.0,162.93 L405.0,162.71 L406.0,162.48 L407.0,162.21 L408.0,161.92 L409.0,161.62 L410.0,161.33 L411.0,161.05 L412.0,160.76 L413.0,160.47 L414.0,160.20 L415.0,159.93 L416.0,159.69 L417.0,159.45 L418.0,159.21 L419.0,158.98 L420.0,158.76 L421.0,158.56 L422.0,158.38 L423.0,158.23 L424.0,158.09 L425.0,157.96 L426.0,157.84 L427.0,157.75 L428.0,157.70 L429.0,157.71 L430.0,157.76 L431.0,157.84 L432.0,157.95 L433.0,158.07 L434.0,158.21 L435.0,158.36 L436.0,158.52 L437.0,158.70 L438.0,158.93 L439.0,159.19 L440.0,159.48 L441.0,159.78 L442.0,160.08 L443.0,160.36 L444.0,160.62 L445.0,160.88 L446.0,161.14 L447.0,161.39 L448.0,161.63 L449.0,161.88 L450.0,162.13 L451.0,162.38 L452.0,162.61 L453.0,162.81 L454.0,162.97 L455.0,163.11 L456.0,163.24 L457.0,163.37 L458.0,163.49 L459.0,163.60 L460.0,163.70 L461.0,163.79 L462.0,163.86 L463.0,163.91 L464.0,163.95 L465.0,163.98 L466.0,164.00 L467.0,164.02 L468.0,164.04 L469.0,164.05 L470.0,164.05 L471.0,164.05 L472.0,164.05 L473.0,164.05 L474.0,164.05 L475.0,164.05 L476.0,164.05 L477.0,164.05 L478.0,164.05 L479.0,164.05 L480.0,164.05 L481.0,164.05 L482.0,164.05 L483.0,164.05 L484.0,164.05 L485.0,164.05 L486.0,164.05 L487.0,164.05 L488.0,164.05 L489.0,164.05 L490.0,164.05 L491.0,164.05 L492.0,164.05 L493.0,164.05 L494.0,164.05 L495.0,164.05 L496.0,164.05 L497.0,164.05 L498.0,164.05 L499.0,164.05 L500.0,164.05 L501.0,164.05 L502.0,164.05 L503.0,164.05 L504.0,164.05 L505.0,164.05 L506.0,164.05 L507.0,164.05 L508.0,164.05 L509.0,164.05 L510.0,164.05 L511.0,164.05 L512.0,164.05 L513.0,164.05 L514.0,164.05 L515.0,164.05 L516.0,164.05 L517.0,164.05 L518.0,164.05 L519.0,164.05 L520.0,164.05 L521.0,164.05 L522.0,164.05 L522.0,164.05 L68.0,164.05 Z" fill="#3C5488" fill-opacity="0.8" stroke="none"/>
<path d="M68.0,164.05 L69.0,164.05 L70.0,164.05 L71.0,164.05 L72.0,164.04 L73.0,164.04 L74.0,164.04 L75.0,164.03 L76.0,164.03 L77.0,164.02 L78.0,164.02 L79.0,164.01 L80.0,164.00 L81.0,164.00 L82.0,163.99 L83.0,163.98 L84.0,163.97 L85.0,163.96 L86.0,163.95 L87.0,163.94 L88.0,163.92 L89.0,163.89 L90.0,163.86 L91.0,163.82 L92.0,163.78 L93.0,163.73 L94.0,163.67 L95.0,163.59 L96.0,163.49 L97.0,163.37 L98.0,163.25 L99.0,163.10 L100.0,162.95 L101.0,162.76 L102.0,162.51 L103.0,162.22 L104.0,161.90 L105.0,161.57 L106.0,161.20 L107.0,160.79 L108.0,160.32 L109.0,159.77 L110.0,159.20 L111.0,158.61 L112.0,158.00 L113.0,157.37 L114.0,156.73 L115.0,156.09 L116.0,155.46 L117.0,154.84 L118.0,154.22 L119.0,153.59 L120.0,152.94 L121.0,152.27 L122.0,151.57 L123.0,150.83 L124.0,150.07 L125.0,149.27 L126.0,148.45 L127.0,147.62 L128.0,146.77 L129.0,145.91 L130.0,145.04 L131.0,144.15 L132.0,143.23 L133.0,142.30 L134.0,141.36 L135.0,140.43 L136.0,139.53 L137.0,138.67 L138.0,137.86 L139.0,137.06 L140.0,136.27 L141.0,135.44 L142.0,134.57 L143.0,133.62 L144.0,132.56 L145.0,131.35 L146.0,130.07 L147.0,128.79 L148.0,127.57 L149.0,126.38 L150.0,125.19 L151.0,124.01 L152.0,122.86 L153.0,121.78 L154.0,120.79 L155.0,119.87 L156.0,118.98 L157.0,118.13 L158.0,117.33 L159.0,116.60 L160.0,115.95 L161.0,115.41 L162.0,114.88 L163.0,114.36 L164.0,113.89 L165.0,113.51 L166.0,113.27 L167.0,113.21 L168.0,113.22 L169.0,113.24 L170.0,113.27 L171.0,113.31 L172.0,113.53 L173.0,114.00 L174.0,114.58 L175.0,115.13 L176.0,115.73 L177.0,116.39 L178.0,117.09 L179.0,117.81 L180.0,118.52 L181.0,119.21 L182.0,119.90 L183.0,120.63 L184.0,121.37 L185.0,122.10 L186.0,122.79 L187.0,123.43 L188.0,123.98 L189.0,124.44 L190.0,124.88 L191.0,125.31 L192.0,125.72 L193.0,126.07 L194.0,126.36 L195.0,126.54 L196.0,126.61 L197.0,126.54 L198.0,126.33 L199.0,126.02 L200.0,125.62 L201.0,125.16 L202.0,124.67 L203.0,124.14 L204.0,123.43 L205.0,122.53 L206.0,121.53 L207.0,120.50 L208.0,119.52 L209.0,118.45 L210.0,117.30 L211.0,116.11 L212.0,114.95 L213.0,113.86 L214.0,112.91 L215.0,112.14 L216.0,111.57 L217.0,111.02 L218.0,110.50 L219.0,110.04 L220.0,109.65 L221.0,109.37 L222.0,109.22 L223.0,109.22 L224.0,109.41 L225.0,109.76 L226.0,110.24 L227.0,110.81 L228.0,111.46 L229.0,112.42 L230.0,113.87 L231.0,115.21 L232.0,116.42 L233.0,117.63 L234.0,118.94 L235.0,120.45 L236.0,122.25 L237.0,124.22 L238.0,126.20 L239.0,128.19 L240.0,130.23 L241.0,132.20 L242.0,134.08 L243.0,135.77 L244.0,137.37 L245.0,138.83 L246.0,140.07 L247.0,141.17 L248.0,142.16 L249.0,143.07 L250.0,143.92 L251.0,144.72 L252.0,145.45 L253.0,146.10 L254.0,146.68 L255.0,147.20 L256.0,147.67 L257.0,148.08 L258.0,148.46 L259.0,148.82 L260.0,149.14 L261.0,149.41 L262.0,149.60 L263.0,149.74 L264.0,149.85 L265.0,149.95 L266.0,150.04 L267.0,150.11 L268.0,150.18 L269.0,150.23 L270.0,150.28 L271.0,150.32 L272.0,150.35 L273.0,150.38 L274.0,150.40 L275.0,150.44 L276.0,150.47 L277.0,150.51 L278.0,150.56 L279.0,150.63 L280.0,150.72 L281.0,150.84 L282.0,150.98 L283.0,151.15 L284.0,151.34 L285.0,151.54 L286.0,151.76 L287.0,152.01 L288.0,152.34 L289.0,152.71 L290.0,153.10 L291.0,153.54 L292.0,154.01 L293.0,154.49 L294.0,154.94 L295.0,155.37 L296.0,155.79 L297.0,156.20 L298.0,156.63 L299.0,157.09 L300.0,157.59 L301.0,158.08 L302.0,158.51 L303.0,158.92 L304.0,159.30 L305.0,159.67 L306.0,160.02 L307.0,160.37 L308.0,160.70 L309.0,161.03 L310.0,161.34 L311.0,161.64 L312.0,161.90 L313.0,162.14 L314.0,162.36 L315.0,162.57 L316.0,162.76 L317.0,162.93 L318.0,163.09 L319.0,163.25 L320.0,163.38 L321.0,163.50 L322.0,163.60 L323.0,163.68 L324.0,163.76 L325.0,163.84 L326.0,163.91 L327.0,163.97 L328.0,164.01 L329.0,164.04 L330.0,164.05 L331.0,164.05 L332.0,164.05 L333.0,164.05 L334.0,164.05 L335.0,164.05 L336.0,164.05 L337.0,164.05 L338.0,164.05 L339.0,164.05 L340.0,164.05 L341.0,164.05 L342.0,164.05 L343.0,164.05 L344.0,164.05 L345.0,164.05 L346.0,164.05 L347.0,164.05 L348.0,164.05 L349.0,164.05 L350.0,164.05 L351.0,164.05 L352.0,164.05 L353.0,164.05 L354.0,164.05 L355.0,164.05 L356.0,164.05 L357.0,164.05 L358.0,164.05 L359.0,164.05 L360.0,164.05 L361.0,164.05 L362.0,164.05 L363.0,164.05 L364.0,164.05 L365.0,164.05 L366.0,164.05 L367.0,164.05 L368.0,164.05 L369.0,164.05 L370.0,164.05 L371.0,164.05 L372.0,164.05 L373.0,164.05 L374.0,164.05 L375.0,164.05 L376.0,164.05 L377.0,164.05 L378.0,164.05 L379.0,164.05 L380.0,164.05 L381.0,164.05 L382.0,164.05 L383.0,164.05 L384.0,164.05 L385.0,164.05 L386.0,164.05 L387.0,164.05 L388.0,164.05 L389.0,164.05 L390.0,164.05 L391.0,164.05 L392.0,164.05 L393.0,164.05 L394.0,164.05 L395.0,164.05 L396.0,164.05 L397.0,164.05 L398.0,164.02 L399.0,163.92 L400.0,163.78 L401.0,163.60 L402.0,163.39 L403.0,163.16 L404.0,162.93 L405.0,162.71 L406.0,162.48 L407.0,162.21 L408.0,161.92 L409.0,161.62 L410.0,161.33 L411.0,161.05 L412.0,160.76 L413.0,160.47 L414.0,160.20 L415.0,159.93 L416.0,159.69 L417.0,159.45 L418.0,159.21 L419.0,158.98 L420.0,158.76 L421.0,158.56 L422.0,158.38 L423.0,158.23 L424.0,158.09 L425.0,157.96 L426.0,157.84 L427.0,157.75 L428.0,157.70 L429.0,157.71 L430.0,157.76 L431.0,157.84 L432.0,157.95 L433.0,158.07 L434.0,158.21 L435.0,158.36 L436.0,158.52 L437.0,158.70 L438.0,158.93 L439.0,159.19 L440.0,159.48 L441.0,159.78 L442.0,160.08 L443.0,160.36 L444.0,160.62 L445.0,160.88 L446.0,161.14 L447.0,161.39 L448.0,161.63 L449.0,161.88 L450.0,162.13 L451.0,162.38 L452.0,162.61 L453.0,162.81 L454.0,162.97 L455.0,163.11 L456.0,163.24 L457.0,163.37 L458.0,163.49 L459.0,163.60 L460.0,163.70 L461.0,163.79 L462.0,163.86 L463.0,163.91 L464.0,163.95 L465.0,163.98 L466.0,164.00 L467.0,164.02 L468.0,164.04 L469.0,164.05 L470.0,164.05 L471.0,164.05 L472.0,164.05 L473.0,164.05 L474.0,164.05 L475.0,164.05 L476.0,164.05 L477.0,164.05 L478.0,164.05 L479.0,164.05 L480.0,164.05 L481.0,164.05 L482.0,164.05 L483.0,164.05 L484.0,164.05 L485.0,164.05 L486.0,164.05 L487.0,164.05 L488.0,164.05 L489.0,164.05 L490.0,164.05 L491.0,164.05 L492.0,164.05 L493.0,164.05 L494.0,164.05 L495.0,164.05 L496.0,164.05 L497.0,164.05 L498.0,164.05 L499.0,164.05 L500.0,164.05 L501.0,164.05 L502.0,164.05 L503.0,164.05 L504.0,164.05 L505.0,164.05 L506.0,164.05 L507.0,164.05 L508.0,164.05 L509.0,164.05 L510.0,164.05 L511.0,164.05 L512.0,164.05 L513.0,164.05 L514.0,164.05 L515.0,164.05 L516.0,164.05 L517.0,164.05 L518.0,164.05 L519.0,164.05 L520.0,164.05 L521.0,164.05 L522.0,164.05" fill="none" stroke="#3C5488" stroke-width="1.1" stroke-linejoin="round"/>
<path d="M68.0,190.35 L69.0,190.35 L70.0,190.35 L71.0,190.34 L72.0,190.34 L73.0,190.33 L74.0,190.32 L75.0,190.31 L76.0,190.30 L77.0,190.27 L78.0,190.22 L79.0,190.14 L80.0,190.04 L81.0,189.92 L82.0,189.74 L83.0,189.49 L84.0,189.19 L85.0,188.85 L86.0,188.48 L87.0,188.07 L88.0,187.51 L89.0,186.87 L90.0,186.27 L91.0,185.71 L92.0,185.15 L93.0,184.56 L94.0,183.89 L95.0,183.11 L96.0,182.18 L97.0,181.14 L98.0,180.05 L99.0,178.86 L100.0,177.59 L101.0,176.26 L102.0,174.80 L103.0,173.14 L104.0,171.32 L105.0,169.42 L106.0,167.50 L107.0,165.52 L108.0,163.47 L109.0,161.43 L110.0,159.50 L111.0,157.67 L112.0,155.89 L113.0,154.17 L114.0,152.53 L115.0,151.00 L116.0,149.53 L117.0,148.08 L118.0,146.73 L119.0,145.52 L120.0,144.51 L121.0,143.67 L122.0,142.91 L123.0,142.22 L124.0,141.60 L125.0,141.03 L126.0,140.51 L127.0,140.02 L128.0,139.56 L129.0,139.12 L130.0,138.71 L131.0,138.33 L132.0,137.97 L133.0,137.63 L134.0,137.31 L135.0,137.01 L136.0,136.73 L137.0,136.46 L138.0,136.20 L139.0,135.96 L140.0,135.73 L141.0,135.51 L142.0,135.31 L143.0,135.12 L144.0,134.95 L145.0,134.80 L146.0,134.65 L147.0,134.50 L148.0,134.35 L149.0,134.18 L150.0,134.01 L151.0,133.80 L152.0,133.56 L153.0,133.28 L154.0,132.99 L155.0,132.70 L156.0,132.43 L157.0,132.19 L158.0,132.00 L159.0,131.86 L160.0,131.74 L161.0,131.65 L162.0,131.61 L163.0,131.72 L164.0,131.98 L165.0,132.31 L166.0,132.79 L167.0,133.47 L168.0,134.21 L169.0,134.95 L170.0,135.74 L171.0,136.58 L172.0,137.48 L173.0,138.46 L174.0,139.53 L175.0,140.77 L176.0,142.17 L177.0,143.69 L178.0,145.26 L179.0,146.84 L180.0,148.38 L181.0,149.86 L182.0,151.37 L183.0,152.90 L184.0,154.39 L185.0,155.81 L186.0,157.13 L187.0,158.39 L188.0,159.64 L189.0,160.81 L190.0,161.83 L191.0,162.64 L192.0,163.33 L193.0,164.00 L194.0,164.60 L195.0,165.09 L196.0,165.42 L197.0,165.55 L198.0,165.59 L199.0,165.62 L200.0,165.64 L201.0,165.65 L202.0,165.64 L203.0,165.50 L204.0,165.25 L205.0,164.94 L206.0,164.67 L207.0,164.48 L208.0,164.45 L209.0,164.50 L210.0,164.60 L211.0,164.73 L212.0,164.91 L213.0,165.11 L214.0,165.38 L215.0,165.96 L216.0,166.82 L217.0,167.80 L218.0,168.78 L219.0,169.71 L220.0,170.71 L221.0,171.76 L222.0,172.82 L223.0,173.85 L224.0,174.82 L225.0,175.71 L226.0,176.58 L227.0,177.43 L228.0,178.25 L229.0,179.04 L230.0,179.78 L231.0,180.47 L232.0,181.11 L233.0,181.75 L234.0,182.36 L235.0,182.94 L236.0,183.45 L237.0,183.89 L238.0,184.23 L239.0,184.54 L240.0,184.84 L241.0,185.12 L242.0,185.37 L243.0,185.57 L244.0,185.71 L245.0,185.78 L246.0,185.77 L247.0,185.67 L248.0,185.50 L249.0,185.28 L250.0,185.04 L251.0,184.79 L252.0,184.56 L253.0,184.37 L254.0,184.19 L255.0,184.00 L256.0,183.81 L257.0,183.61 L258.0,183.42 L259.0,183.25 L260.0,183.10 L261.0,182.98 L262.0,182.89 L263.0,182.85 L264.0,182.85 L265.0,182.87 L266.0,182.89 L267.0,182.91 L268.0,182.95 L269.0,182.98 L270.0,183.02 L271.0,183.05 L272.0,183.09 L273.0,183.12 L274.0,183.14 L275.0,183.15 L276.0,183.16 L277.0,183.15 L278.0,183.13 L279.0,183.10 L280.0,183.06 L281.0,183.02 L282.0,182.97 L283.0,182.93 L284.0,182.88 L285.0,182.84 L286.0,182.80 L287.0,182.77 L288.0,182.75 L289.0,182.75 L290.0,182.76 L291.0,182.78 L292.0,182.81 L293.0,182.85 L294.0,182.90 L295.0,182.96 L296.0,183.03 L297.0,183.10 L298.0,183.18 L299.0,183.26 L300.0,183.38 L301.0,183.55 L302.0,183.76 L303.0,184.01 L304.0,184.28 L305.0,184.55 L306.0,184.83 L307.0,185.08 L308.0,185.36 L309.0,185.66 L310.0,185.97 L311.0,186.28 L312.0,186.60 L313.0,186.91 L314.0,187.21 L315.0,187.48 L316.0,187.73 L317.0,187.95 L318.0,188.16 L319.0,188.36 L320.0,188.55 L321.0,188.73 L322.0,188.90 L323.0,189.04 L324.0,189.15 L325.0,189.23 L326.0,189.29 L327.0,189.35 L328.0,189.39 L329.0,189.42 L330.0,189.44 L331.0,189.42 L332.0,189.36 L333.0,189.27 L334.0,189.15 L335.0,189.03 L336.0,188.89 L337.0,188.70 L338.0,188.48 L339.0,188.25 L340.0,188.01 L341.0,187.76 L342.0,187.50 L343.0,187.21 L344.0,186.91 L345.0,186.60 L346.0,186.29 L347.0,185.98 L348.0,185.68 L349.0,185.39 L350.0,185.13 L351.0,184.88 L352.0,184.64 L353.0,184.40 L354.0,184.16 L355.0,183.96 L356.0,183.79 L357.0,183.66 L358.0,183.56 L359.0,183.47 L360.0,183.41 L361.0,183.37 L362.0,183.36 L363.0,183.40 L364.0,183.46 L365.0,183.55 L366.0,183.65 L367.0,183.77 L368.0,183.90 L369.0,184.03 L370.0,184.23 L371.0,184.48 L372.0,184.78 L373.0,185.11 L374.0,185.46 L375.0,185.81 L376.0,186.16 L377.0,186.50 L378.0,186.81 L379.0,187.08 L380.0,187.34 L381.0,187.60 L382.0,187.86 L383.0,188.12 L384.0,188.36 L385.0,188.60 L386.0,188.82 L387.0,189.02 L388.0,189.19 L389.0,189.34 L390.0,189.49 L391.0,189.63 L392.0,189.77 L393.0,189.90 L394.0,190.02 L395.0,190.13 L396.0,190.22 L397.0,190.29 L398.0,190.33 L399.0,190.35 L400.0,190.35 L401.0,190.35 L402.0,190.35 L403.0,190.35 L404.0,190.35 L405.0,190.35 L406.0,190.35 L407.0,190.35 L408.0,190.35 L409.0,190.35 L410.0,190.35 L411.0,190.35 L412.0,190.35 L413.0,190.35 L414.0,190.35 L415.0,190.35 L416.0,190.35 L417.0,190.35 L418.0,190.35 L419.0,190.35 L420.0,190.35 L421.0,190.35 L422.0,190.35 L423.0,190.35 L424.0,190.35 L425.0,190.35 L426.0,190.35 L427.0,190.35 L428.0,190.35 L429.0,190.35 L430.0,190.35 L431.0,190.35 L432.0,190.35 L433.0,190.35 L434.0,190.35 L435.0,190.35 L436.0,190.35 L437.0,190.35 L438.0,190.35 L439.0,190.35 L440.0,190.35 L441.0,190.35 L442.0,190.35 L443.0,190.35 L444.0,190.35 L445.0,190.35 L446.0,190.35 L447.0,190.35 L448.0,190.35 L449.0,190.35 L450.0,190.35 L451.0,190.35 L452.0,190.35 L453.0,190.35 L454.0,190.35 L455.0,190.35 L456.0,190.35 L457.0,190.35 L458.0,190.35 L459.0,190.35 L460.0,190.35 L461.0,190.35 L462.0,190.35 L463.0,190.35 L464.0,190.35 L465.0,190.35 L466.0,190.35 L467.0,190.35 L468.0,190.35 L469.0,190.35 L470.0,190.35 L471.0,190.35 L472.0,190.35 L473.0,190.35 L474.0,190.35 L475.0,190.35 L476.0,190.35 L477.0,190.35 L478.0,190.35 L479.0,190.35 L480.0,190.35 L481.0,190.35 L482.0,190.35 L483.0,190.35 L484.0,190.35 L485.0,190.35 L486.0,190.35 L487.0,190.35 L488.0,190.35 L489.0,190.35 L490.0,190.35 L491.0,190.35 L492.0,190.35 L493.0,190.35 L494.0,190.35 L495.0,190.35 L496.0,190.35 L497.0,190.35 L498.0,190.35 L499.0,190.35 L500.0,190.35 L501.0,190.35 L502.0,190.35 L503.0,190.35 L504.0,190.35 L505.0,190.35 L506.0,190.35 L507.0,190.35 L508.0,190.35 L509.0,190.35 L510.0,190.35 L511.0,190.35 L512.0,190.35 L513.0,190.35 L514.0,190.35 L515.0,190.35 L516.0,190.35 L517.0,190.35 L518.0,190.35 L519.0,190.35 L520.0,190.35 L521.0,190.35 L522.0,190.35 L522.0,190.35 L68.0,190.35 Z" fill="#00A087" fill-opacity="0.8" stroke="none"/>
<path d="M68.0,190.35 L69.0,190.35 L70.0,190.35 L71.0,190.34 L72.0,190.34 L73.0,190.33 L74.0,190.32 L75.0,190.31 L76.0,190.30 L77.0,190.27 L78.0,190.22 L79.0,190.14 L80.0,190.04 L81.0,189.92 L82.0,189.74 L83.0,189.49 L84.0,189.19 L85.0,188.85 L86.0,188.48 L87.0,188.07 L88.0,187.51 L89.0,186.87 L90.0,186.27 L91.0,185.71 L92.0,185.15 L93.0,184.56 L94.0,183.89 L95.0,183.11 L96.0,182.18 L97.0,181.14 L98.0,180.05 L99.0,178.86 L100.0,177.59 L101.0,176.26 L102.0,174.80 L103.0,173.14 L104.0,171.32 L105.0,169.42 L106.0,167.50 L107.0,165.52 L108.0,163.47 L109.0,161.43 L110.0,159.50 L111.0,157.67 L112.0,155.89 L113.0,154.17 L114.0,152.53 L115.0,151.00 L116.0,149.53 L117.0,148.08 L118.0,146.73 L119.0,145.52 L120.0,144.51 L121.0,143.67 L122.0,142.91 L123.0,142.22 L124.0,141.60 L125.0,141.03 L126.0,140.51 L127.0,140.02 L128.0,139.56 L129.0,139.12 L130.0,138.71 L131.0,138.33 L132.0,137.97 L133.0,137.63 L134.0,137.31 L135.0,137.01 L136.0,136.73 L137.0,136.46 L138.0,136.20 L139.0,135.96 L140.0,135.73 L141.0,135.51 L142.0,135.31 L143.0,135.12 L144.0,134.95 L145.0,134.80 L146.0,134.65 L147.0,134.50 L148.0,134.35 L149.0,134.18 L150.0,134.01 L151.0,133.80 L152.0,133.56 L153.0,133.28 L154.0,132.99 L155.0,132.70 L156.0,132.43 L157.0,132.19 L158.0,132.00 L159.0,131.86 L160.0,131.74 L161.0,131.65 L162.0,131.61 L163.0,131.72 L164.0,131.98 L165.0,132.31 L166.0,132.79 L167.0,133.47 L168.0,134.21 L169.0,134.95 L170.0,135.74 L171.0,136.58 L172.0,137.48 L173.0,138.46 L174.0,139.53 L175.0,140.77 L176.0,142.17 L177.0,143.69 L178.0,145.26 L179.0,146.84 L180.0,148.38 L181.0,149.86 L182.0,151.37 L183.0,152.90 L184.0,154.39 L185.0,155.81 L186.0,157.13 L187.0,158.39 L188.0,159.64 L189.0,160.81 L190.0,161.83 L191.0,162.64 L192.0,163.33 L193.0,164.00 L194.0,164.60 L195.0,165.09 L196.0,165.42 L197.0,165.55 L198.0,165.59 L199.0,165.62 L200.0,165.64 L201.0,165.65 L202.0,165.64 L203.0,165.50 L204.0,165.25 L205.0,164.94 L206.0,164.67 L207.0,164.48 L208.0,164.45 L209.0,164.50 L210.0,164.60 L211.0,164.73 L212.0,164.91 L213.0,165.11 L214.0,165.38 L215.0,165.96 L216.0,166.82 L217.0,167.80 L218.0,168.78 L219.0,169.71 L220.0,170.71 L221.0,171.76 L222.0,172.82 L223.0,173.85 L224.0,174.82 L225.0,175.71 L226.0,176.58 L227.0,177.43 L228.0,178.25 L229.0,179.04 L230.0,179.78 L231.0,180.47 L232.0,181.11 L233.0,181.75 L234.0,182.36 L235.0,182.94 L236.0,183.45 L237.0,183.89 L238.0,184.23 L239.0,184.54 L240.0,184.84 L241.0,185.12 L242.0,185.37 L243.0,185.57 L244.0,185.71 L245.0,185.78 L246.0,185.77 L247.0,185.67 L248.0,185.50 L249.0,185.28 L250.0,185.04 L251.0,184.79 L252.0,184.56 L253.0,184.37 L254.0,184.19 L255.0,184.00 L256.0,183.81 L257.0,183.61 L258.0,183.42 L259.0,183.25 L260.0,183.10 L261.0,182.98 L262.0,182.89 L263.0,182.85 L264.0,182.85 L265.0,182.87 L266.0,182.89 L267.0,182.91 L268.0,182.95 L269.0,182.98 L270.0,183.02 L271.0,183.05 L272.0,183.09 L273.0,183.12 L274.0,183.14 L275.0,183.15 L276.0,183.16 L277.0,183.15 L278.0,183.13 L279.0,183.10 L280.0,183.06 L281.0,183.02 L282.0,182.97 L283.0,182.93 L284.0,182.88 L285.0,182.84 L286.0,182.80 L287.0,182.77 L288.0,182.75 L289.0,182.75 L290.0,182.76 L291.0,182.78 L292.0,182.81 L293.0,182.85 L294.0,182.90 L295.0,182.96 L296.0,183.03 L297.0,183.10 L298.0,183.18 L299.0,183.26 L300.0,183.38 L301.0,183.55 L302.0,183.76 L303.0,184.01 L304.0,184.28 L305.0,184.55 L306.0,184.83 L307.0,185.08 L308.0,185.36 L309.0,185.66 L310.0,185.97 L311.0,186.28 L312.0,186.60 L313.0,186.91 L314.0,187.21 L315.0,187.48 L316.0,187.73 L317.0,187.95 L318.0,188.16 L319.0,188.36 L320.0,188.55 L321.0,188.73 L322.0,188.90 L323.0,189.04 L324.0,189.15 L325.0,189.23 L326.0,189.29 L327.0,189.35 L328.0,189.39 L329.0,189.42 L330.0,189.44 L331.0,189.42 L332.0,189.36 L333.0,189.27 L334.0,189.15 L335.0,189.03 L336.0,188.89 L337.0,188.70 L338.0,188.48 L339.0,188.25 L340.0,188.01 L341.0,187.76 L342.0,187.50 L343.0,187.21 L344.0,186.91 L345.0,186.60 L346.0,186.29 L347.0,185.98 L348.0,185.68 L349.0,185.39 L350.0,185.13 L351.0,184.88 L352.0,184.64 L353.0,184.40 L354.0,184.16 L355.0,183.96 L356.0,183.79 L357.0,183.66 L358.0,183.56 L359.0,183.47 L360.0,183.41 L361.0,183.37 L362.0,183.36 L363.0,183.40 L364.0,183.46 L365.0,183.55 L366.0,183.65 L367.0,183.77 L368.0,183.90 L369.0,184.03 L370.0,184.23 L371.0,184.48 L372.0,184.78 L373.0,185.11 L374.0,185.46 L375.0,185.81 L376.0,186.16 L377.0,186.50 L378.0,186.81 L379.0,187.08 L380.0,187.34 L381.0,187.60 L382.0,187.86 L383.0,188.12 L384.0,188.36 L385.0,188.60 L386.0,188.82 L387.0,189.02 L388.0,189.19 L389.0,189.34 L390.0,189.49 L391.0,189.63 L392.0,189.77 L393.0,189.90 L394.0,190.02 L395.0,190.13 L396.0,190.22 L397.0,190.29 L398.0,190.33 L399.0,190.35 L400.0,190.35 L401.0,190.35 L402.0,190.35 L403.0,190.35 L404.0,190.35 L405.0,190.35 L406.0,190.35 L407.0,190.35 L408.0,190.35 L409.0,190.35 L410.0,190.35 L411.0,190.35 L412.0,190.35 L413.0,190.35 L414.0,190.35 L415.0,190.35 L416.0,190.35 L417.0,190.35 L418.0,190.35 L419.0,190.35 L420.0,190.35 L421.0,190.35 L422.0,190.35 L423.0,190.35 L424.0,190.35 L425.0,190.35 L426.0,190.35 L427.0,190.35 L428.0,190.35 L429.0,190.35 L430.0,190.35 L431.0,190.35 L432.0,190.35 L433.0,190.35 L434.0,190.35 L435.0,190.35 L436.0,190.35 L437.0,190.35 L438.0,190.35 L439.0,190.35 L440.0,190.35 L441.0,190.35 L442.0,190.35 L443.0,190.35 L444.0,190.35 L445.0,190.35 L446.0,190.35 L447.0,190.35 L448.0,190.35 L449.0,190.35 L450.0,190.35 L451.0,190.35 L452.0,190.35 L453.0,190.35 L454.0,190.35 L455.0,190.35 L456.0,190.35 L457.0,190.35 L458.0,190.35 L459.0,190.35 L460.0,190.35 L461.0,190.35 L462.0,190.35 L463.0,190.35 L464.0,190.35 L465.0,190.35 L466.0,190.35 L467.0,190.35 L468.0,190.35 L469.0,190.35 L470.0,190.35 L471.0,190.35 L472.0,190.35 L473.0,190.35 L474.0,190.35 L475.0,190.35 L476.0,190.35 L477.0,190.35 L478.0,190.35 L479.0,190.35 L480.0,190.35 L481.0,190.35 L482.0,190.35 L483.0,190.35 L484.0,190.35 L485.0,190.35 L486.0,190.35 L487.0,190.35 L488.0,190.35 L489.0,190.35 L490.0,190.35 L491.0,190.35 L492.0,190.35 L493.0,190.35 L494.0,190.35 L495.0,190.35 L496.0,190.35 L497.0,190.35 L498.0,190.35 L499.0,190.35 L500.0,190.35 L501.0,190.35 L502.0,190.35 L503.0,190.35 L504.0,190.35 L505.0,190.35 L506.0,190.35 L507.0,190.35 L508.0,190.35 L509.0,190.35 L510.0,190.35 L511.0,190.35 L512.0,190.35 L513.0,190.35 L514.0,190.35 L515.0,190.35 L516.0,190.35 L517.0,190.35 L518.0,190.35 L519.0,190.35 L520.0,190.35 L521.0,190.35 L522.0,190.35" fill="none" stroke="#00A087" stroke-width="1.1" stroke-linejoin="round"/>
<path d="M68.0,216.45 L69.0,216.45 L70.0,216.45 L71.0,216.44 L72.0,216.44 L73.0,216.43 L74.0,216.42 L75.0,216.40 L76.0,216.38 L77.0,216.31 L78.0,216.22 L79.0,216.11 L80.0,215.98 L81.0,215.80 L82.0,215.59 L83.0,215.33 L84.0,215.03 L85.0,214.69 L86.0,214.27 L87.0,213.65 L88.0,212.88 L89.0,212.03 L90.0,211.20 L91.0,210.41 L92.0,209.58 L93.0,208.60 L94.0,207.30 L95.0,205.73 L96.0,204.10 L97.0,202.54 L98.0,200.90 L99.0,199.00 L100.0,196.65 L101.0,193.87 L102.0,190.80 L103.0,187.40 L104.0,183.61 L105.0,179.50 L106.0,174.96 L107.0,170.01 L108.0,165.01 L109.0,160.07 L110.0,155.00 L111.0,149.44 L112.0,144.20 L113.0,139.98 L114.0,136.22 L115.0,132.57 L116.0,129.00 L117.0,125.92 L118.0,123.21 L119.0,120.75 L120.0,118.76 L121.0,117.34 L122.0,116.05 L123.0,114.87 L124.0,113.86 L125.0,113.11 L126.0,112.68 L127.0,112.63 L128.0,112.95 L129.0,113.56 L130.0,114.41 L131.0,115.44 L132.0,116.57 L133.0,117.76 L134.0,119.14 L135.0,120.99 L136.0,123.12 L137.0,125.34 L138.0,127.51 L139.0,129.83 L140.0,132.20 L141.0,134.52 L142.0,136.81 L143.0,139.09 L144.0,141.35 L145.0,143.65 L146.0,145.91 L147.0,148.00 L148.0,149.90 L149.0,151.69 L150.0,153.41 L151.0,155.06 L152.0,156.68 L153.0,158.27 L154.0,159.85 L155.0,161.44 L156.0,163.01 L157.0,164.56 L158.0,166.09 L159.0,167.59 L160.0,169.05 L161.0,170.48 L162.0,171.87 L163.0,173.23 L164.0,174.56 L165.0,175.86 L166.0,177.14 L167.0,178.38 L168.0,179.59 L169.0,180.77 L170.0,181.91 L171.0,183.00 L172.0,184.03 L173.0,185.01 L174.0,185.97 L175.0,186.93 L176.0,187.89 L177.0,188.88 L178.0,189.92 L179.0,191.03 L180.0,192.20 L181.0,193.41 L182.0,194.62 L183.0,195.81 L184.0,196.95 L185.0,198.04 L186.0,199.11 L187.0,200.17 L188.0,201.19 L189.0,202.18 L190.0,203.13 L191.0,204.05 L192.0,204.97 L193.0,205.87 L194.0,206.73 L195.0,207.50 L196.0,208.17 L197.0,208.75 L198.0,209.30 L199.0,209.82 L200.0,210.27 L201.0,210.65 L202.0,210.91 L203.0,211.09 L204.0,211.24 L205.0,211.39 L206.0,211.51 L207.0,211.62 L208.0,211.70 L209.0,211.75 L210.0,211.78 L211.0,211.76 L212.0,211.65 L213.0,211.49 L214.0,211.29 L215.0,211.07 L216.0,210.87 L217.0,210.70 L218.0,210.59 L219.0,210.55 L220.0,210.52 L221.0,210.48 L222.0,210.46 L223.0,210.43 L224.0,210.41 L225.0,210.40 L226.0,210.38 L227.0,210.37 L228.0,210.37 L229.0,210.39 L230.0,210.50 L231.0,210.70 L232.0,210.94 L233.0,211.21 L234.0,211.48 L235.0,211.74 L236.0,212.07 L237.0,212.43 L238.0,212.79 L239.0,213.12 L240.0,213.40 L241.0,213.62 L242.0,213.82 L243.0,214.00 L244.0,214.17 L245.0,214.34 L246.0,214.50 L247.0,214.67 L248.0,214.85 L249.0,215.04 L250.0,215.22 L251.0,215.40 L252.0,215.56 L253.0,215.71 L254.0,215.84 L255.0,215.95 L256.0,216.02 L257.0,216.07 L258.0,216.12 L259.0,216.16 L260.0,216.20 L261.0,216.24 L262.0,216.28 L263.0,216.31 L264.0,216.34 L265.0,216.36 L266.0,216.39 L267.0,216.41 L268.0,216.42 L269.0,216.44 L270.0,216.44 L271.0,216.45 L272.0,216.45 L273.0,216.44 L274.0,216.43 L275.0,216.41 L276.0,216.38 L277.0,216.35 L278.0,216.32 L279.0,216.28 L280.0,216.23 L281.0,216.18 L282.0,216.13 L283.0,216.08 L284.0,216.02 L285.0,215.96 L286.0,215.90 L287.0,215.84 L288.0,215.77 L289.0,215.69 L290.0,215.59 L291.0,215.48 L292.0,215.36 L293.0,215.22 L294.0,215.09 L295.0,214.94 L296.0,214.79 L297.0,214.64 L298.0,214.47 L299.0,214.27 L300.0,214.06 L301.0,213.84 L302.0,213.61 L303.0,213.40 L304.0,213.19 L305.0,212.99 L306.0,212.78 L307.0,212.58 L308.0,212.37 L309.0,212.15 L310.0,211.93 L311.0,211.69 L312.0,211.42 L313.0,211.14 L314.0,210.89 L315.0,210.68 L316.0,210.56 L317.0,210.45 L318.0,210.36 L319.0,210.29 L320.0,210.25 L321.0,210.26 L322.0,210.31 L323.0,210.40 L324.0,210.50 L325.0,210.61 L326.0,210.73 L327.0,210.88 L328.0,211.04 L329.0,211.23 L330.0,211.44 L331.0,211.68 L332.0,212.00 L333.0,212.38 L334.0,212.76 L335.0,213.11 L336.0,213.39 L337.0,213.65 L338.0,213.90 L339.0,214.13 L340.0,214.35 L341.0,214.56 L342.0,214.77 L343.0,214.97 L344.0,215.16 L345.0,215.34 L346.0,215.52 L347.0,215.70 L348.0,215.88 L349.0,216.04 L350.0,216.17 L351.0,216.25 L352.0,216.30 L353.0,216.34 L354.0,216.37 L355.0,216.40 L356.0,216.43 L357.0,216.44 L358.0,216.45 L359.0,216.45 L360.0,216.45 L361.0,216.45 L362.0,216.45 L363.0,216.45 L364.0,216.45 L365.0,216.45 L366.0,216.45 L367.0,216.45 L368.0,216.45 L369.0,216.45 L370.0,216.45 L371.0,216.45 L372.0,216.45 L373.0,216.45 L374.0,216.45 L375.0,216.45 L376.0,216.45 L377.0,216.45 L378.0,216.45 L379.0,216.45 L380.0,216.45 L381.0,216.45 L382.0,216.45 L383.0,216.45 L384.0,216.45 L385.0,216.45 L386.0,216.45 L387.0,216.45 L388.0,216.45 L389.0,216.45 L390.0,216.45 L391.0,216.45 L392.0,216.45 L393.0,216.45 L394.0,216.45 L395.0,216.45 L396.0,216.45 L397.0,216.45 L398.0,216.45 L399.0,216.45 L400.0,216.45 L401.0,216.45 L402.0,216.45 L403.0,216.45 L404.0,216.45 L405.0,216.45 L406.0,216.45 L407.0,216.45 L408.0,216.45 L409.0,216.45 L410.0,216.45 L411.0,216.45 L412.0,216.45 L413.0,216.45 L414.0,216.45 L415.0,216.45 L416.0,216.45 L417.0,216.45 L418.0,216.45 L419.0,216.45 L420.0,216.45 L421.0,216.45 L422.0,216.45 L423.0,216.45 L424.0,216.45 L425.0,216.45 L426.0,216.45 L427.0,216.45 L428.0,216.45 L429.0,216.45 L430.0,216.45 L431.0,216.45 L432.0,216.45 L433.0,216.45 L434.0,216.45 L435.0,216.45 L436.0,216.45 L437.0,216.45 L438.0,216.45 L439.0,216.45 L440.0,216.45 L441.0,216.45 L442.0,216.45 L443.0,216.45 L444.0,216.45 L445.0,216.45 L446.0,216.45 L447.0,216.45 L448.0,216.45 L449.0,216.45 L450.0,216.45 L451.0,216.45 L452.0,216.45 L453.0,216.45 L454.0,216.45 L455.0,216.45 L456.0,216.45 L457.0,216.45 L458.0,216.45 L459.0,216.45 L460.0,216.45 L461.0,216.45 L462.0,216.45 L463.0,216.45 L464.0,216.45 L465.0,216.45 L466.0,216.45 L467.0,216.45 L468.0,216.45 L469.0,216.45 L470.0,216.45 L471.0,216.45 L472.0,216.45 L473.0,216.45 L474.0,216.45 L475.0,216.45 L476.0,216.45 L477.0,216.45 L478.0,216.45 L479.0,216.45 L480.0,216.45 L481.0,216.45 L482.0,216.45 L483.0,216.45 L484.0,216.45 L485.0,216.45 L486.0,216.45 L487.0,216.45 L488.0,216.45 L489.0,216.45 L490.0,216.45 L491.0,216.45 L492.0,216.45 L493.0,216.45 L494.0,216.45 L495.0,216.45 L496.0,216.45 L497.0,216.45 L498.0,216.45 L499.0,216.45 L500.0,216.45 L501.0,216.45 L502.0,216.45 L503.0,216.45 L504.0,216.45 L505.0,216.45 L506.0,216.45 L507.0,216.45 L508.0,216.45 L509.0,216.45 L510.0,216.45 L511.0,216.45 L512.0,216.45 L513.0,216.45 L514.0,216.45 L515.0,216.45 L516.0,216.45 L517.0,216.45 L518.0,216.45 L519.0,216.45 L520.0,216.45 L521.0,216.45 L522.0,216.45 L522.0,216.45 L68.0,216.45 Z" fill="#4DBBD5" fill-opacity="0.8" stroke="none"/>
<path d="M68.0,216.45 L69.0,216.45 L70.0,216.45 L71.0,216.44 L72.0,216.44 L73.0,216.43 L74.0,216.42 L75.0,216.40 L76.0,216.38 L77.0,216.31 L78.0,216.22 L79.0,216.11 L80.0,215.98 L81.0,215.80 L82.0,215.59 L83.0,215.33 L84.0,215.03 L85.0,214.69 L86.0,214.27 L87.0,213.65 L88.0,212.88 L89.0,212.03 L90.0,211.20 L91.0,210.41 L92.0,209.58 L93.0,208.60 L94.0,207.30 L95.0,205.73 L96.0,204.10 L97.0,202.54 L98.0,200.90 L99.0,199.00 L100.0,196.65 L101.0,193.87 L102.0,190.80 L103.0,187.40 L104.0,183.61 L105.0,179.50 L106.0,174.96 L107.0,170.01 L108.0,165.01 L109.0,160.07 L110.0,155.00 L111.0,149.44 L112.0,144.20 L113.0,139.98 L114.0,136.22 L115.0,132.57 L116.0,129.00 L117.0,125.92 L118.0,123.21 L119.0,120.75 L120.0,118.76 L121.0,117.34 L122.0,116.05 L123.0,114.87 L124.0,113.86 L125.0,113.11 L126.0,112.68 L127.0,112.63 L128.0,112.95 L129.0,113.56 L130.0,114.41 L131.0,115.44 L132.0,116.57 L133.0,117.76 L134.0,119.14 L135.0,120.99 L136.0,123.12 L137.0,125.34 L138.0,127.51 L139.0,129.83 L140.0,132.20 L141.0,134.52 L142.0,136.81 L143.0,139.09 L144.0,141.35 L145.0,143.65 L146.0,145.91 L147.0,148.00 L148.0,149.90 L149.0,151.69 L150.0,153.41 L151.0,155.06 L152.0,156.68 L153.0,158.27 L154.0,159.85 L155.0,161.44 L156.0,163.01 L157.0,164.56 L158.0,166.09 L159.0,167.59 L160.0,169.05 L161.0,170.48 L162.0,171.87 L163.0,173.23 L164.0,174.56 L165.0,175.86 L166.0,177.14 L167.0,178.38 L168.0,179.59 L169.0,180.77 L170.0,181.91 L171.0,183.00 L172.0,184.03 L173.0,185.01 L174.0,185.97 L175.0,186.93 L176.0,187.89 L177.0,188.88 L178.0,189.92 L179.0,191.03 L180.0,192.20 L181.0,193.41 L182.0,194.62 L183.0,195.81 L184.0,196.95 L185.0,198.04 L186.0,199.11 L187.0,200.17 L188.0,201.19 L189.0,202.18 L190.0,203.13 L191.0,204.05 L192.0,204.97 L193.0,205.87 L194.0,206.73 L195.0,207.50 L196.0,208.17 L197.0,208.75 L198.0,209.30 L199.0,209.82 L200.0,210.27 L201.0,210.65 L202.0,210.91 L203.0,211.09 L204.0,211.24 L205.0,211.39 L206.0,211.51 L207.0,211.62 L208.0,211.70 L209.0,211.75 L210.0,211.78 L211.0,211.76 L212.0,211.65 L213.0,211.49 L214.0,211.29 L215.0,211.07 L216.0,210.87 L217.0,210.70 L218.0,210.59 L219.0,210.55 L220.0,210.52 L221.0,210.48 L222.0,210.46 L223.0,210.43 L224.0,210.41 L225.0,210.40 L226.0,210.38 L227.0,210.37 L228.0,210.37 L229.0,210.39 L230.0,210.50 L231.0,210.70 L232.0,210.94 L233.0,211.21 L234.0,211.48 L235.0,211.74 L236.0,212.07 L237.0,212.43 L238.0,212.79 L239.0,213.12 L240.0,213.40 L241.0,213.62 L242.0,213.82 L243.0,214.00 L244.0,214.17 L245.0,214.34 L246.0,214.50 L247.0,214.67 L248.0,214.85 L249.0,215.04 L250.0,215.22 L251.0,215.40 L252.0,215.56 L253.0,215.71 L254.0,215.84 L255.0,215.95 L256.0,216.02 L257.0,216.07 L258.0,216.12 L259.0,216.16 L260.0,216.20 L261.0,216.24 L262.0,216.28 L263.0,216.31 L264.0,216.34 L265.0,216.36 L266.0,216.39 L267.0,216.41 L268.0,216.42 L269.0,216.44 L270.0,216.44 L271.0,216.45 L272.0,216.45 L273.0,216.44 L274.0,216.43 L275.0,216.41 L276.0,216.38 L277.0,216.35 L278.0,216.32 L279.0,216.28 L280.0,216.23 L281.0,216.18 L282.0,216.13 L283.0,216.08 L284.0,216.02 L285.0,215.96 L286.0,215.90 L287.0,215.84 L288.0,215.77 L289.0,215.69 L290.0,215.59 L291.0,215.48 L292.0,215.36 L293.0,215.22 L294.0,215.09 L295.0,214.94 L296.0,214.79 L297.0,214.64 L298.0,214.47 L299.0,214.27 L300.0,214.06 L301.0,213.84 L302.0,213.61 L303.0,213.40 L304.0,213.19 L305.0,212.99 L306.0,212.78 L307.0,212.58 L308.0,212.37 L309.0,212.15 L310.0,211.93 L311.0,211.69 L312.0,211.42 L313.0,211.14 L314.0,210.89 L315.0,210.68 L316.0,210.56 L317.0,210.45 L318.0,210.36 L319.0,210.29 L320.0,210.25 L321.0,210.26 L322.0,210.31 L323.0,210.40 L324.0,210.50 L325.0,210.61 L326.0,210.73 L327.0,210.88 L328.0,211.04 L329.0,211.23 L330.0,211.44 L331.0,211.68 L332.0,212.00 L333.0,212.38 L334.0,212.76 L335.0,213.11 L336.0,213.39 L337.0,213.65 L338.0,213.90 L339.0,214.13 L340.0,214.35 L341.0,214.56 L342.0,214.77 L343.0,214.97 L344.0,215.16 L345.0,215.34 L346.0,215.52 L347.0,215.70 L348.0,215.88 L349.0,216.04 L350.0,216.17 L351.0,216.25 L352.0,216.30 L353.0,216.34 L354.0,216.37 L355.0,216.40 L356.0,216.43 L357.0,216.44 L358.0,216.45 L359.0,216.45 L360.0,216.45 L361.0,216.45 L362.0,216.45 L363.0,216.45 L364.0,216.45 L365.0,216.45 L366.0,216.45 L367.0,216.45 L368.0,216.45 L369.0,216.45 L370.0,216.45 L371.0,216.45 L372.0,216.45 L373.0,216.45 L374.0,216.45 L375.0,216.45 L376.0,216.45 L377.0,216.45 L378.0,216.45 L379.0,216.45 L380.0,216.45 L381.0,216.45 L382.0,216.45 L383.0,216.45 L384.0,216.45 L385.0,216.45 L386.0,216.45 L387.0,216.45 L388.0,216.45 L389.0,216.45 L390.0,216.45 L391.0,216.45 L392.0,216.45 L393.0,216.45 L394.0,216.45 L395.0,216.45 L396.0,216.45 L397.0,216.45 L398.0,216.45 L399.0,216.45 L400.0,216.45 L401.0,216.45 L402.0,216.45 L403.0,216.45 L404.0,216.45 L405.0,216.45 L406.0,216.45 L407.0,216.45 L408.0,216.45 L409.0,216.45 L410.0,216.45 L411.0,216.45 L412.0,216.45 L413.0,216.45 L414.0,216.45 L415.0,216.45 L416.0,216.45 L417.0,216.45 L418.0,216.45 L419.0,216.45 L420.0,216.45 L421.0,216.45 L422.0,216.45 L423.0,216.45 L424.0,216.45 L425.0,216.45 L426.0,216.45 L427.0,216.45 L428.0,216.45 L429.0,216.45 L430.0,216.45 L431.0,216.45 L432.0,216.45 L433.0,216.45 L434.0,216.45 L435.0,216.45 L436.0,216.45 L437.0,216.45 L438.0,216.45 L439.0,216.45 L440.0,216.45 L441.0,216.45 L442.0,216.45 L443.0,216.45 L444.0,216.45 L445.0,216.45 L446.0,216.45 L447.0,216.45 L448.0,216.45 L449.0,216.45 L450.0,216.45 L451.0,216.45 L452.0,216.45 L453.0,216.45 L454.0,216.45 L455.0,216.45 L456.0,216.45 L457.0,216.45 L458.0,216.45 L459.0,216.45 L460.0,216.45 L461.0,216.45 L462.0,216.45 L463.0,216.45 L464.0,216.45 L465.0,216.45 L466.0,216.45 L467.0,216.45 L468.0,216.45 L469.0,216.45 L470.0,216.45 L471.0,216.45 L472.0,216.45 L473.0,216.45 L474.0,216.45 L475.0,216.45 L476.0,216.45 L477.0,216.45 L478.0,216.45 L479.0,216.45 L480.0,216.45 L481.0,216.45 L482.0,216.45 L483.0,216.45 L484.0,216.45 L485.0,216.45 L486.0,216.45 L487.0,216.45 L488.0,216.45 L489.0,216.45 L490.0,216.45 L491.0,216.45 L492.0,216.45 L493.0,216.45 L494.0,216.45 L495.0,216.45 L496.0,216.45 L497.0,216.45 L498.0,216.45 L499.0,216.45 L500.0,216.45 L501.0,216.45 L502.0,216.45 L503.0,216.45 L504.0,216.45 L505.0,216.45 L506.0,216.45 L507.0,216.45 L508.0,216.45 L509.0,216.45 L510.0,216.45 L511.0,216.45 L512.0,216.45 L513.0,216.45 L514.0,216.45 L515.0,216.45 L516.0,216.45 L517.0,216.45 L518.0,216.45 L519.0,216.45 L520.0,216.45 L521.0,216.45 L522.0,216.45" fill="none" stroke="#4DBBD5" stroke-width="1.1" stroke-linejoin="round"/>
<path d="M68.0,242.70 L69.0,242.69 L70.0,242.68 L71.0,242.66 L72.0,242.63 L73.0,242.60 L74.0,242.55 L75.0,242.47 L76.0,242.36 L77.0,242.23 L78.0,242.06 L79.0,241.83 L80.0,241.53 L81.0,241.10 L82.0,240.51 L83.0,239.82 L84.0,239.07 L85.0,238.18 L86.0,237.15 L87.0,235.97 L88.0,234.65 L89.0,233.07 L90.0,231.25 L91.0,229.26 L92.0,227.12 L93.0,224.71 L94.0,222.07 L95.0,219.25 L96.0,216.30 L97.0,213.09 L98.0,209.71 L99.0,206.28 L100.0,202.75 L101.0,199.10 L102.0,195.32 L103.0,191.46 L104.0,187.45 L105.0,183.23 L106.0,178.70 L107.0,173.88 L108.0,169.03 L109.0,164.00 L110.0,158.88 L111.0,153.98 L112.0,149.59 L113.0,145.89 L114.0,142.37 L115.0,138.48 L116.0,134.81 L117.0,131.84 L118.0,129.28 L119.0,127.51 L120.0,126.11 L121.0,124.87 L122.0,123.91 L123.0,123.37 L124.0,123.37 L125.0,123.89 L126.0,124.80 L127.0,126.00 L128.0,127.35 L129.0,128.74 L130.0,130.47 L131.0,132.62 L132.0,134.96 L133.0,137.44 L134.0,140.21 L135.0,143.27 L136.0,146.72 L137.0,150.37 L138.0,154.28 L139.0,158.21 L140.0,161.64 L141.0,164.70 L142.0,167.59 L143.0,170.50 L144.0,173.53 L145.0,176.56 L146.0,179.53 L147.0,182.33 L148.0,184.98 L149.0,187.53 L150.0,190.01 L151.0,192.51 L152.0,194.94 L153.0,197.02 L154.0,198.68 L155.0,200.11 L156.0,201.48 L157.0,202.94 L158.0,204.45 L159.0,205.94 L160.0,207.38 L161.0,208.72 L162.0,209.99 L163.0,211.20 L164.0,212.36 L165.0,213.47 L166.0,214.51 L167.0,215.54 L168.0,216.60 L169.0,217.71 L170.0,218.85 L171.0,219.99 L172.0,221.12 L173.0,222.23 L174.0,223.32 L175.0,224.39 L176.0,225.45 L177.0,226.49 L178.0,227.51 L179.0,228.53 L180.0,229.53 L181.0,230.49 L182.0,231.40 L183.0,232.26 L184.0,233.08 L185.0,233.87 L186.0,234.61 L187.0,235.30 L188.0,235.95 L189.0,236.57 L190.0,237.15 L191.0,237.69 L192.0,238.21 L193.0,238.70 L194.0,239.17 L195.0,239.60 L196.0,239.97 L197.0,240.28 L198.0,240.57 L199.0,240.83 L200.0,241.06 L201.0,241.26 L202.0,241.43 L203.0,241.59 L204.0,241.73 L205.0,241.85 L206.0,241.97 L207.0,242.09 L208.0,242.19 L209.0,242.27 L210.0,242.30 L211.0,242.30 L212.0,242.28 L213.0,242.27 L214.0,242.24 L215.0,242.21 L216.0,242.18 L217.0,242.10 L218.0,241.98 L219.0,241.83 L220.0,241.64 L221.0,241.44 L222.0,241.23 L223.0,241.01 L224.0,240.79 L225.0,240.58 L226.0,240.38 L227.0,240.21 L228.0,240.07 L229.0,239.96 L230.0,239.86 L231.0,239.77 L232.0,239.68 L233.0,239.59 L234.0,239.51 L235.0,239.43 L236.0,239.35 L237.0,239.28 L238.0,239.21 L239.0,239.14 L240.0,239.08 L241.0,239.01 L242.0,238.95 L243.0,238.89 L244.0,238.84 L245.0,238.79 L246.0,238.75 L247.0,238.70 L248.0,238.66 L249.0,238.61 L250.0,238.56 L251.0,238.50 L252.0,238.44 L253.0,238.36 L254.0,238.28 L255.0,238.17 L256.0,238.04 L257.0,237.87 L258.0,237.70 L259.0,237.51 L260.0,237.32 L261.0,237.13 L262.0,236.96 L263.0,236.80 L264.0,236.67 L265.0,236.55 L266.0,236.42 L267.0,236.30 L268.0,236.18 L269.0,236.08 L270.0,236.01 L271.0,235.97 L272.0,235.96 L273.0,235.99 L274.0,236.05 L275.0,236.14 L276.0,236.24 L277.0,236.35 L278.0,236.47 L279.0,236.62 L280.0,236.82 L281.0,237.06 L282.0,237.34 L283.0,237.63 L284.0,237.94 L285.0,238.24 L286.0,238.54 L287.0,238.81 L288.0,239.08 L289.0,239.35 L290.0,239.64 L291.0,239.93 L292.0,240.21 L293.0,240.49 L294.0,240.74 L295.0,240.98 L296.0,241.18 L297.0,241.35 L298.0,241.50 L299.0,241.65 L300.0,241.80 L301.0,241.94 L302.0,242.08 L303.0,242.21 L304.0,242.33 L305.0,242.43 L306.0,242.52 L307.0,242.60 L308.0,242.65 L309.0,242.69 L310.0,242.70 L311.0,242.70 L312.0,242.70 L313.0,242.70 L314.0,242.70 L315.0,242.70 L316.0,242.70 L317.0,242.70 L318.0,242.70 L319.0,242.70 L320.0,242.70 L321.0,242.70 L322.0,242.70 L323.0,242.70 L324.0,242.70 L325.0,242.70 L326.0,242.70 L327.0,242.70 L328.0,242.70 L329.0,242.70 L330.0,242.70 L331.0,242.70 L332.0,242.70 L333.0,242.70 L334.0,242.70 L335.0,242.70 L336.0,242.70 L337.0,242.70 L338.0,242.70 L339.0,242.70 L340.0,242.70 L341.0,242.70 L342.0,242.70 L343.0,242.70 L344.0,242.70 L345.0,242.70 L346.0,242.70 L347.0,242.70 L348.0,242.70 L349.0,242.70 L350.0,242.70 L351.0,242.70 L352.0,242.70 L353.0,242.70 L354.0,242.70 L355.0,242.70 L356.0,242.70 L357.0,242.70 L358.0,242.70 L359.0,242.70 L360.0,242.70 L361.0,242.70 L362.0,242.70 L363.0,242.70 L364.0,242.70 L365.0,242.70 L366.0,242.70 L367.0,242.70 L368.0,242.70 L369.0,242.70 L370.0,242.70 L371.0,242.70 L372.0,242.70 L373.0,242.70 L374.0,242.70 L375.0,242.70 L376.0,242.70 L377.0,242.70 L378.0,242.70 L379.0,242.70 L380.0,242.70 L381.0,242.70 L382.0,242.70 L383.0,242.70 L384.0,242.70 L385.0,242.70 L386.0,242.70 L387.0,242.70 L388.0,242.70 L389.0,242.70 L390.0,242.70 L391.0,242.70 L392.0,242.70 L393.0,242.70 L394.0,242.70 L395.0,242.70 L396.0,242.70 L397.0,242.70 L398.0,242.70 L399.0,242.70 L400.0,242.70 L401.0,242.70 L402.0,242.70 L403.0,242.70 L404.0,242.70 L405.0,242.70 L406.0,242.70 L407.0,242.70 L408.0,242.70 L409.0,242.70 L410.0,242.70 L411.0,242.70 L412.0,242.70 L413.0,242.70 L414.0,242.70 L415.0,242.70 L416.0,242.70 L417.0,242.70 L418.0,242.70 L419.0,242.70 L420.0,242.70 L421.0,242.70 L422.0,242.70 L423.0,242.70 L424.0,242.70 L425.0,242.70 L426.0,242.70 L427.0,242.70 L428.0,242.70 L429.0,242.70 L430.0,242.70 L431.0,242.70 L432.0,242.70 L433.0,242.70 L434.0,242.70 L435.0,242.70 L436.0,242.70 L437.0,242.70 L438.0,242.70 L439.0,242.70 L440.0,242.70 L441.0,242.70 L442.0,242.70 L443.0,242.70 L444.0,242.70 L445.0,242.70 L446.0,242.70 L447.0,242.70 L448.0,242.70 L449.0,242.70 L450.0,242.70 L451.0,242.70 L452.0,242.70 L453.0,242.70 L454.0,242.70 L455.0,242.70 L456.0,242.70 L457.0,242.70 L458.0,242.70 L459.0,242.70 L460.0,242.70 L461.0,242.70 L462.0,242.70 L463.0,242.70 L464.0,242.70 L465.0,242.70 L466.0,242.70 L467.0,242.70 L468.0,242.70 L469.0,242.70 L470.0,242.70 L471.0,242.70 L472.0,242.70 L473.0,242.70 L474.0,242.70 L475.0,242.70 L476.0,242.70 L477.0,242.70 L478.0,242.70 L479.0,242.70 L480.0,242.70 L481.0,242.70 L482.0,242.70 L483.0,242.70 L484.0,242.70 L485.0,242.70 L486.0,242.70 L487.0,242.70 L488.0,242.70 L489.0,242.70 L490.0,242.70 L491.0,242.70 L492.0,242.70 L493.0,242.70 L494.0,242.70 L495.0,242.70 L496.0,242.70 L497.0,242.70 L498.0,242.70 L499.0,242.70 L500.0,242.70 L501.0,242.70 L502.0,242.70 L503.0,242.70 L504.0,242.70 L505.0,242.70 L506.0,242.70 L507.0,242.70 L508.0,242.70 L509.0,242.70 L510.0,242.70 L511.0,242.70 L512.0,242.70 L513.0,242.70 L514.0,242.70 L515.0,242.70 L516.0,242.70 L517.0,242.70 L518.0,242.70 L519.0,242.70 L520.0,242.70 L521.0,242.70 L522.0,242.70 L522.0,242.7 L68.0,242.7 Z" fill="#E64B35" fill-opacity="0.8" stroke="none"/>
<path d="M68.0,242.70 L69.0,242.69 L70.0,242.68 L71.0,242.66 L72.0,242.63 L73.0,242.60 L74.0,242.55 L75.0,242.47 L76.0,242.36 L77.0,242.23 L78.0,242.06 L79.0,241.83 L80.0,241.53 L81.0,241.10 L82.0,240.51 L83.0,239.82 L84.0,239.07 L85.0,238.18 L86.0,237.15 L87.0,235.97 L88.0,234.65 L89.0,233.07 L90.0,231.25 L91.0,229.26 L92.0,227.12 L93.0,224.71 L94.0,222.07 L95.0,219.25 L96.0,216.30 L97.0,213.09 L98.0,209.71 L99.0,206.28 L100.0,202.75 L101.0,199.10 L102.0,195.32 L103.0,191.46 L104.0,187.45 L105.0,183.23 L106.0,178.70 L107.0,173.88 L108.0,169.03 L109.0,164.00 L110.0,158.88 L111.0,153.98 L112.0,149.59 L113.0,145.89 L114.0,142.37 L115.0,138.48 L116.0,134.81 L117.0,131.84 L118.0,129.28 L119.0,127.51 L120.0,126.11 L121.0,124.87 L122.0,123.91 L123.0,123.37 L124.0,123.37 L125.0,123.89 L126.0,124.80 L127.0,126.00 L128.0,127.35 L129.0,128.74 L130.0,130.47 L131.0,132.62 L132.0,134.96 L133.0,137.44 L134.0,140.21 L135.0,143.27 L136.0,146.72 L137.0,150.37 L138.0,154.28 L139.0,158.21 L140.0,161.64 L141.0,164.70 L142.0,167.59 L143.0,170.50 L144.0,173.53 L145.0,176.56 L146.0,179.53 L147.0,182.33 L148.0,184.98 L149.0,187.53 L150.0,190.01 L151.0,192.51 L152.0,194.94 L153.0,197.02 L154.0,198.68 L155.0,200.11 L156.0,201.48 L157.0,202.94 L158.0,204.45 L159.0,205.94 L160.0,207.38 L161.0,208.72 L162.0,209.99 L163.0,211.20 L164.0,212.36 L165.0,213.47 L166.0,214.51 L167.0,215.54 L168.0,216.60 L169.0,217.71 L170.0,218.85 L171.0,219.99 L172.0,221.12 L173.0,222.23 L174.0,223.32 L175.0,224.39 L176.0,225.45 L177.0,226.49 L178.0,227.51 L179.0,228.53 L180.0,229.53 L181.0,230.49 L182.0,231.40 L183.0,232.26 L184.0,233.08 L185.0,233.87 L186.0,234.61 L187.0,235.30 L188.0,235.95 L189.0,236.57 L190.0,237.15 L191.0,237.69 L192.0,238.21 L193.0,238.70 L194.0,239.17 L195.0,239.60 L196.0,239.97 L197.0,240.28 L198.0,240.57 L199.0,240.83 L200.0,241.06 L201.0,241.26 L202.0,241.43 L203.0,241.59 L204.0,241.73 L205.0,241.85 L206.0,241.97 L207.0,242.09 L208.0,242.19 L209.0,242.27 L210.0,242.30 L211.0,242.30 L212.0,242.28 L213.0,242.27 L214.0,242.24 L215.0,242.21 L216.0,242.18 L217.0,242.10 L218.0,241.98 L219.0,241.83 L220.0,241.64 L221.0,241.44 L222.0,241.23 L223.0,241.01 L224.0,240.79 L225.0,240.58 L226.0,240.38 L227.0,240.21 L228.0,240.07 L229.0,239.96 L230.0,239.86 L231.0,239.77 L232.0,239.68 L233.0,239.59 L234.0,239.51 L235.0,239.43 L236.0,239.35 L237.0,239.28 L238.0,239.21 L239.0,239.14 L240.0,239.08 L241.0,239.01 L242.0,238.95 L243.0,238.89 L244.0,238.84 L245.0,238.79 L246.0,238.75 L247.0,238.70 L248.0,238.66 L249.0,238.61 L250.0,238.56 L251.0,238.50 L252.0,238.44 L253.0,238.36 L254.0,238.28 L255.0,238.17 L256.0,238.04 L257.0,237.87 L258.0,237.70 L259.0,237.51 L260.0,237.32 L261.0,237.13 L262.0,236.96 L263.0,236.80 L264.0,236.67 L265.0,236.55 L266.0,236.42 L267.0,236.30 L268.0,236.18 L269.0,236.08 L270.0,236.01 L271.0,235.97 L272.0,235.96 L273.0,235.99 L274.0,236.05 L275.0,236.14 L276.0,236.24 L277.0,236.35 L278.0,236.47 L279.0,236.62 L280.0,236.82 L281.0,237.06 L282.0,237.34 L283.0,237.63 L284.0,237.94 L285.0,238.24 L286.0,238.54 L287.0,238.81 L288.0,239.08 L289.0,239.35 L290.0,239.64 L291.0,239.93 L292.0,240.21 L293.0,240.49 L294.0,240.74 L295.0,240.98 L296.0,241.18 L297.0,241.35 L298.0,241.50 L299.0,241.65 L300.0,241.80 L301.0,241.94 L302.0,242.08 L303.0,242.21 L304.0,242.33 L305.0,242.43 L306.0,242.52 L307.0,242.60 L308.0,242.65 L309.0,242.69 L310.0,242.70 L311.0,242.70 L312.0,242.70 L313.0,242.70 L314.0,242.70 L315.0,242.70 L316.0,242.70 L317.0,242.70 L318.0,242.70 L319.0,242.70 L320.0,242.70 L321.0,242.70 L322.0,242.70 L323.0,242.70 L324.0,242.70 L325.0,242.70 L326.0,242.70 L327.0,242.70 L328.0,242.70 L329.0,242.70 L330.0,242.70 L331.0,242.70 L332.0,242.70 L333.0,242.70 L334.0,242.70 L335.0,242.70 L336.0,242.70 L337.0,242.70 L338.0,242.70 L339.0,242.70 L340.0,242.70 L341.0,242.70 L342.0,242.70 L343.0,242.70 L344.0,242.70 L345.0,242.70 L346.0,242.70 L347.0,242.70 L348.0,242.70 L349.0,242.70 L350.0,242.70 L351.0,242.70 L352.0,242.70 L353.0,242.70 L354.0,242.70 L355.0,242.70 L356.0,242.70 L357.0,242.70 L358.0,242.70 L359.0,242.70 L360.0,242.70 L361.0,242.70 L362.0,242.70 L363.0,242.70 L364.0,242.70 L365.0,242.70 L366.0,242.70 L367.0,242.70 L368.0,242.70 L369.0,242.70 L370.0,242.70 L371.0,242.70 L372.0,242.70 L373.0,242.70 L374.0,242.70 L375.0,242.70 L376.0,242.70 L377.0,242.70 L378.0,242.70 L379.0,242.70 L380.0,242.70 L381.0,242.70 L382.0,242.70 L383.0,242.70 L384.0,242.70 L385.0,242.70 L386.0,242.70 L387.0,242.70 L388.0,242.70 L389.0,242.70 L390.0,242.70 L391.0,242.70 L392.0,242.70 L393.0,242.70 L394.0,242.70 L395.0,242.70 L396.0,242.70 L397.0,242.70 L398.0,242.70 L399.0,242.70 L400.0,242.70 L401.0,242.70 L402.0,242.70 L403.0,242.70 L404.0,242.70 L405.0,242.70 L406.0,242.70 L407.0,242.70 L408.0,242.70 L409.0,242.70 L410.0,242.70 L411.0,242.70 L412.0,242.70 L413.0,242.70 L414.0,242.70 L415.0,242.70 L416.0,242.70 L417.0,242.70 L418.0,242.70 L419.0,242.70 L420.0,242.70 L421.0,242.70 L422.0,242.70 L423.0,242.70 L424.0,242.70 L425.0,242.70 L426.0,242.70 L427.0,242.70 L428.0,242.70 L429.0,242.70 L430.0,242.70 L431.0,242.70 L432.0,242.70 L433.0,242.70 L434.0,242.70 L435.0,242.70 L436.0,242.70 L437.0,242.70 L438.0,242.70 L439.0,242.70 L440.0,242.70 L441.0,242.70 L442.0,242.70 L443.0,242.70 L444.0,242.70 L445.0,242.70 L446.0,242.70 L447.0,242.70 L448.0,242.70 L449.0,242.70 L450.0,242.70 L451.0,242.70 L452.0,242.70 L453.0,242.70 L454.0,242.70 L455.0,242.70 L456.0,242.70 L457.0,242.70 L458.0,242.70 L459.0,242.70 L460.0,242.70 L461.0,242.70 L462.0,242.70 L463.0,242.70 L464.0,242.70 L465.0,242.70 L466.0,242.70 L467.0,242.70 L468.0,242.70 L469.0,242.70 L470.0,242.70 L471.0,242.70 L472.0,242.70 L473.0,242.70 L474.0,242.70 L475.0,242.70 L476.0,242.70 L477.0,242.70 L478.0,242.70 L479.0,242.70 L480.0,242.70 L481.0,242.70 L482.0,242.70 L483.0,242.70 L484.0,242.70 L485.0,242.70 L486.0,242.70 L487.0,242.70 L488.0,242.70 L489.0,242.70 L490.0,242.70 L491.0,242.70 L492.0,242.70 L493.0,242.70 L494.0,242.70 L495.0,242.70 L496.0,242.70 L497.0,242.70 L498.0,242.70 L499.0,242.70 L500.0,242.70 L501.0,242.70 L502.0,242.70 L503.0,242.70 L504.0,242.70 L505.0,242.70 L506.0,242.70 L507.0,242.70 L508.0,242.70 L509.0,242.70 L510.0,242.70 L511.0,242.70 L512.0,242.70 L513.0,242.70 L514.0,242.70 L515.0,242.70 L516.0,242.70 L517.0,242.70 L518.0,242.70 L519.0,242.70 L520.0,242.70 L521.0,242.70 L522.0,242.70" fill="none" stroke="#E64B35" stroke-width="1.1" stroke-linejoin="round"/>
</g>
<rect x="46.0" y="7.4" width="497.9" height="250.45000000000002" fill="none" stroke="#707070" stroke-width="1.15"/>
<g><line x1="42.6" x2="46.0" y1="111.75" y2="111.75" stroke="#3a3a3a" stroke-width="1"/><line x1="42.6" x2="46.0" y1="137.9" y2="137.9" stroke="#3a3a3a" stroke-width="1"/><line x1="42.6" x2="46.0" y1="164.05" y2="164.05" stroke="#3a3a3a" stroke-width="1"/><line x1="42.6" x2="46.0" y1="190.35" y2="190.35" stroke="#3a3a3a" stroke-width="1"/><line x1="42.6" x2="46.0" y1="216.45" y2="216.45" stroke="#3a3a3a" stroke-width="1"/><line x1="42.6" x2="46.0" y1="242.7" y2="242.7" stroke="#3a3a3a" stroke-width="1"/><line x1="106.9" x2="106.9" y1="257.85" y2="261.15000000000003" stroke="#3a3a3a" stroke-width="1"/><line x1="213.3" x2="213.3" y1="257.85" y2="261.15000000000003" stroke="#3a3a3a" stroke-width="1"/><line x1="319.8" x2="319.8" y1="257.85" y2="261.15000000000003" stroke="#3a3a3a" stroke-width="1"/><line x1="426.2" x2="426.2" y1="257.85" y2="261.15000000000003" stroke="#3a3a3a" stroke-width="1"/><line x1="532.6" x2="532.6" y1="257.85" y2="261.15000000000003" stroke="#3a3a3a" stroke-width="1"/></g>
<g><text x="39.3" y="115.2" text-anchor="end" class="ax">HSK</text><text x="39.3" y="141.4" text-anchor="end" class="ax">CSK</text><text x="39.3" y="167.6" text-anchor="end" class="ax">SSK</text><text x="39.3" y="193.8" text-anchor="end" class="ax">FSK</text><text x="39.3" y="219.9" text-anchor="end" class="ax">HSN</text><text x="39.3" y="246.2" text-anchor="end" class="ax">TSN</text><text x="106.9" y="271.4" text-anchor="middle" class="ax">0.0</text><text x="213.3" y="271.4" text-anchor="middle" class="ax">2.5</text><text x="319.8" y="271.4" text-anchor="middle" class="ax">5.0</text><text x="426.2" y="271.4" text-anchor="middle" class="ax">7.5</text><text x="532.6" y="271.4" text-anchor="middle" class="ax">10.0</text><text x="298.0" y="287.0" class="ti">EC(ms/cm)</text><text transform="translate(11.5,148.2) rotate(-90)" class="ti" style="font-size:13.2px" stroke="#111" stroke-width="0.3">group</text></g>
</svg>
</body></html>
